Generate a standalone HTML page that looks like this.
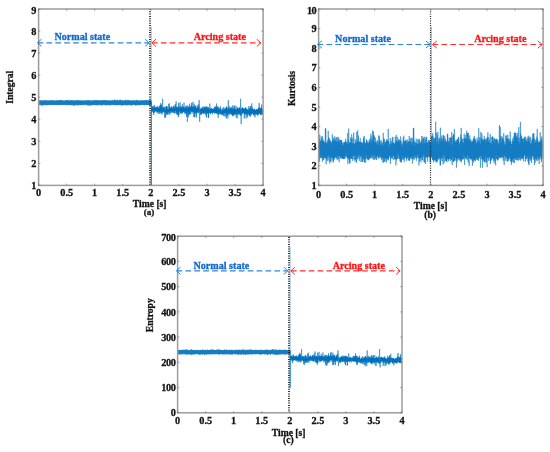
<!DOCTYPE html>
<html><head><meta charset="utf-8"><title>Figure</title>
<style>
html,body{margin:0;padding:0;background:#fff;}
svg{display:block;font-family:"Liberation Serif",serif;font-weight:bold;}
.tk{font-size:10.3px;fill:#111;stroke:#111;stroke-width:0.28px;}
.lb{font-size:9.6px;fill:#111;stroke:#111;stroke-width:0.28px;}
.cp{font-size:9px;fill:#111;stroke:#111;stroke-width:0.28px;}
.an{font-size:10.1px;stroke-width:0.3px;}
</style></head><body>
<svg width="550" height="452" viewBox="0 0 550 452">
<rect width="550" height="452" fill="#fff"/>
<polyline points="38.9,100.9 38.9,104.7 39.1,104.6 39.1,100.3 39.4,100.4 39.4,104.6 39.6,104.9 39.6,100.7 39.9,100.8 39.9,105.2 40.1,104.6 40.1,100.7 40.4,100.7 40.4,104.5 40.6,104.7 40.6,100.9 40.9,100.6 40.9,105.3 41.1,104.5 41.1,100.1 41.4,100.2 41.4,104.9 41.6,105.5 41.6,100.9 41.9,100.6 41.9,104.8 42.1,104.5 42.1,100.9 42.4,100.8 42.4,104.5 42.6,105.6 42.6,100.7 42.9,100.6 42.9,104.8 43.1,105.2 43.1,100.9 43.4,100.9 43.4,104.8 43.6,104.8 43.6,100.6 43.9,100.6 43.9,104.8 44.1,105.1 44.1,100.3 44.4,100.8 44.4,104.9 44.6,105.1 44.6,100.6 44.9,100.1 44.9,104.6 45.1,104.5 45.1,100.6 45.4,100.7 45.4,104.8 45.6,105.1 45.6,100.4 45.9,100.3 45.9,104.5 46.1,104.9 46.1,100.9 46.4,100.5 46.4,105 46.6,104.9 46.6,100.8 46.9,100.6 46.9,104.6 47.1,105.4 47.1,100.8 47.4,100.6 47.4,104.5 47.6,104.9 47.6,100.8 47.9,100.7 47.9,104.6 48.1,105 48.1,100.5 48.4,100.9 48.4,104.9 48.6,104.8 48.6,100.6 48.9,100.8 48.9,104.6 49.1,104.7 49.1,100.8 49.4,100.5 49.4,104.6 49.6,105 49.6,100.4 49.9,100.7 49.9,104.5 50.1,104.6 50.1,100.6 50.4,100.2 50.4,105 50.6,105 50.6,100.9 50.9,100.7 50.9,104.8 51.1,104.6 51.1,100.6 51.4,100.3 51.4,104.6 51.6,104.9 51.6,100.6 51.9,100.7 51.9,104.9 52.1,104.8 52.1,100.8 52.4,100.5 52.4,104.6 52.6,104.6 52.6,100.4 52.9,100.7 52.9,104.8 53.1,104.8 53.1,100.7 53.4,100.2 53.4,104.8 53.6,104.5 53.6,100.8 53.9,100.8 53.9,104.9 54.1,104.6 54.1,100.6 54.4,100.8 54.4,104.5 54.6,104.7 54.6,100.9 54.9,100.8 54.9,104.5 55.1,104.8 55.1,100.6 55.4,100.7 55.4,105 55.6,105.1 55.6,100.9 55.9,100.7 55.9,104.8 56.1,104.5 56.1,100.7 56.4,100.5 56.4,105.1 56.6,104.7 56.6,100.7 56.9,100.9 56.9,105 57.1,104.9 57.1,100.7 57.4,100.4 57.4,104.8 57.6,105.2 57.6,100.1 57.9,100.2 57.9,104.8 58.1,104.7 58.1,100.6 58.4,100.7 58.4,104.9 58.6,105 58.6,100.9 58.9,100.5 58.9,104.5 59.1,104.5 59.1,100.4 59.4,100.4 59.4,104.7 59.6,104.9 59.6,100.7 59.9,100.4 59.9,104.9 60.1,104.8 60.1,100.2 60.4,100.8 60.4,104.7 60.6,104.6 60.6,100.4 60.9,100.8 60.9,104.7 61.1,104.9 61.1,100.3 61.4,100 61.4,105.1 61.6,104.7 61.6,100.1 61.9,100.7 61.9,104.5 62.1,105.1 62.1,100.6 62.4,100.2 62.4,104.7 62.6,104.9 62.6,100.8 62.9,100.6 62.9,104.9 63.1,104.9 63.1,100.8 63.4,100.9 63.4,104.5 63.6,104.5 63.6,100.9 63.9,100.6 63.9,104.9 64.2,104.6 64.2,100.8 64.4,100.8 64.4,104.6 64.7,105 64.7,100.9 64.9,100.9 64.9,104.6 65.2,104.7 65.2,100.4 65.4,100.7 65.4,104.5 65.7,104.7 65.7,100.4 65.9,100.9 65.9,104.7 66.2,104.5 66.2,100.3 66.4,100.3 66.4,104.7 66.7,105.2 66.7,100.7 66.9,100 66.9,104.8 67.2,104.5 67.2,100.9 67.4,100.7 67.4,104.9 67.7,105.1 67.7,100.3 67.9,100.4 67.9,105 68.2,104.9 68.2,99.8 68.4,100.6 68.4,104.5 68.7,104.9 68.7,100.7 68.9,100.7 68.9,104.6 69.2,105.2 69.2,100.6 69.4,100.8 69.4,104.5 69.7,105 69.7,100.8 69.9,100.9 69.9,104.6 70.2,105 70.2,100.5 70.4,100.9 70.4,104.6 70.7,104.9 70.7,100.5 70.9,100.8 70.9,104.8 71.2,105 71.2,100.8 71.4,100 71.4,105 71.7,104.7 71.7,100.3 71.9,100.6 71.9,105.4 72.2,104.8 72.2,100.7 72.4,100.7 72.4,105.1 72.7,104.8 72.7,100.7 72.9,100.4 72.9,104.9 73.2,105.3 73.2,100.6 73.4,100.5 73.4,104.6 73.7,105.2 73.7,100.9 73.9,100.6 73.9,104.7 74.2,105.3 74.2,100.6 74.4,100.7 74.4,105.6 74.7,104.6 74.7,100.4 74.9,100.7 74.9,105.5 75.2,104.7 75.2,100.9 75.4,100.8 75.4,104.8 75.7,104.5 75.7,100.8 75.9,100.1 75.9,104.6 76.2,104.7 76.2,100.9 76.4,100.8 76.4,105.2 76.7,105 76.7,100.5 76.9,100.7 76.9,104.7 77.2,104.6 77.2,100.7 77.4,100.6 77.4,105.1 77.7,105.2 77.7,100 77.9,100.6 77.9,105.3 78.2,104.9 78.2,100.1 78.4,100 78.4,105.2 78.7,104.5 78.7,100.6 78.9,100.8 78.9,104.5 79.2,105.1 79.2,100.7 79.4,100.7 79.4,104.6 79.7,104.6 79.7,100.7 79.9,100.9 79.9,105.1 80.2,105 80.2,100.9 80.4,100.3 80.4,104.9 80.7,105.1 80.7,100.9 80.9,100.6 80.9,105.2 81.2,105 81.2,100.9 81.4,100.7 81.4,104.9 81.7,104.5 81.7,100.7 81.9,100.6 81.9,104.9 82.2,104.5 82.2,100.8 82.4,100.8 82.4,105 82.7,105.2 82.7,100.9 82.9,100.7 82.9,104.9 83.2,104.5 83.2,100.9 83.4,100.7 83.4,104.5 83.7,105 83.7,100.8 83.9,100.9 83.9,105.1 84.2,104.5 84.2,100.7 84.4,100.4 84.4,104.5 84.7,104.7 84.7,100.6 84.9,100.6 84.9,104.7 85.2,104.7 85.2,100.6 85.4,100.9 85.4,104.6 85.7,104.6 85.7,100.7 85.9,100.8 85.9,104.7 86.2,104.5 86.2,100.7 86.4,100.5 86.4,104.7 86.7,104.5 86.7,100.6 86.9,100.4 86.9,104.6 87.2,105.5 87.2,100.9 87.4,100.4 87.4,104.7 87.7,104.6 87.7,100.9 87.9,100.2 87.9,105.1 88.2,105.4 88.2,100.1 88.4,100.3 88.4,105.2 88.7,105 88.7,100.7 88.9,100.7 88.9,104.5 89.2,105.5 89.2,100.3 89.4,100.8 89.4,104.6 89.7,105 89.7,100.5 89.9,100.7 89.9,104.5 90.2,105.6 90.2,100.8 90.4,100.5 90.4,105.5 90.7,104.9 90.7,100.9 90.9,100.8 90.9,104.5 91.2,105 91.2,100.9 91.4,100.7 91.4,105 91.7,105.1 91.7,100.5 91.9,100.6 91.9,105 92.2,105.1 92.2,100.7 92.4,100.5 92.4,104.8 92.7,104.9 92.7,100.8 92.9,100.2 92.9,104.8 93.2,104.9 93.2,100.5 93.4,100.7 93.4,104.8 93.7,105 93.7,100.6 93.9,100.7 93.9,104.8 94.2,104.5 94.2,100.9 94.4,100.9 94.4,104.6 94.7,104.9 94.7,99.9 94.9,100.9 94.9,104.6 95.2,105.3 95.2,100.5 95.4,100.6 95.4,104.6 95.7,104.6 95.7,100.3 95.9,100.3 95.9,104.8 96.2,105 96.2,100.5 96.4,100.6 96.4,105.2 96.7,104.6 96.7,100.2 96.9,100.9 96.9,105 97.2,105.1 97.2,100.5 97.4,100.8 97.4,105.2 97.7,104.5 97.7,100.1 97.9,100.9 97.9,104.9 98.2,104.5 98.2,100.7 98.4,100.8 98.4,104.8 98.7,104.6 98.7,100.8 98.9,100.7 98.9,105.2 99.2,104.6 99.2,100.6 99.4,100.3 99.4,104.5 99.7,104.6 99.7,100.9 99.9,100.9 99.9,104.5 100.2,104.8 100.2,100.8 100.4,100.5 100.4,104.8 100.7,104.6 100.7,100.2 100.9,100.8 100.9,104.5 101.2,105.5 101.2,100.6 101.4,100.5 101.4,104.6 101.7,104.5 101.7,100.6 101.9,100.5 101.9,105.4 102.2,104.5 102.2,100.8 102.4,100.6 102.4,104.9 102.7,104.8 102.7,100 102.9,100.6 102.9,104.9 103.2,104.7 103.2,100.7 103.4,100.7 103.4,104.6 103.7,104.5 103.7,100.4 103.9,100.8 103.9,104.8 104.2,104.7 104.2,100.7 104.4,100.3 104.4,104.7 104.7,105 104.7,100.4 104.9,100.7 104.9,104.8 105.2,104.7 105.2,100.9 105.4,100.4 105.4,105.4 105.7,104.7 105.7,100.4 105.9,100.8 105.9,105.1 106.2,105 106.2,100.4 106.4,100.7 106.4,104.5 106.7,105.1 106.7,100.8 106.9,100.1 106.9,104.7 107.2,104.8 107.2,100.6 107.4,100.8 107.4,104.9 107.7,104.5 107.7,100.7 107.9,100.9 107.9,105 108.2,105.1 108.2,100.9 108.4,100.7 108.4,104.9 108.7,105.1 108.7,100.9 108.9,100.4 108.9,104.5 109.2,104.7 109.2,100.9 109.4,100.8 109.4,104.6 109.7,105.3 109.7,100.7 109.9,100.5 109.9,104.9 110.2,105.3 110.2,100.6 110.4,100.3 110.4,104.5 110.7,104.5 110.7,100.8 110.9,100.8 110.9,104.5 111.2,104.7 111.2,100.8 111.4,100.7 111.4,105.1 111.7,104.8 111.7,100.8 111.9,100.7 111.9,104.9 112.2,104.6 112.2,100.8 112.4,100.2 112.4,104.7 112.7,104.8 112.7,100.4 112.9,100.7 112.9,104.8 113.2,104.6 113.2,100.2 113.4,100.8 113.4,104.8 113.7,104.9 113.7,100.8 113.9,100.9 113.9,104.7 114.2,104.9 114.2,100.4 114.4,100.8 114.4,104.5 114.7,104.6 114.7,99.3 114.9,100.4 114.9,104.6 115.2,104.6 115.2,100.8 115.4,100.8 115.4,104.5 115.7,105.3 115.7,100.9 115.9,100.1 115.9,105.2 116.2,104.8 116.2,100.4 116.4,100.7 116.4,104.7 116.7,105.1 116.7,100.9 116.9,100.2 116.9,104.6 117.2,104.5 117.2,100.6 117.4,100.9 117.4,104.7 117.7,105.2 117.7,99.6 117.9,100.6 117.9,104.5 118.2,105 118.2,100.5 118.4,100.9 118.4,104.9 118.7,105.1 118.7,100.9 118.9,100.6 118.9,105 119.2,104.8 119.2,100.9 119.4,100.6 119.4,104.7 119.7,104.5 119.7,100.9 119.9,99.8 119.9,104.8 120.2,104.8 120.2,100.4 120.4,99.7 120.4,104.9 120.7,105.3 120.7,100.9 120.9,100.6 120.9,105 121.2,104.9 121.2,100.7 121.4,100.9 121.4,105.1 121.7,104.6 121.7,100.1 121.9,100.5 121.9,104.7 122.2,105.3 122.2,100.5 122.4,100.9 122.4,105.6 122.7,104.8 122.7,100.9 122.9,100.8 122.9,105 123.2,105 123.2,100.4 123.4,100.7 123.4,105 123.7,105 123.7,100.8 123.9,100.4 123.9,105.1 124.2,104.9 124.2,100.9 124.4,100.9 124.4,105 124.7,104.6 124.7,100.6 124.9,100.7 124.9,104.8 125.2,104.5 125.2,100.7 125.4,99.7 125.4,105 125.7,105.1 125.7,100.5 125.9,100.7 125.9,104.6 126.2,105.1 126.2,100.9 126.4,100.5 126.4,105.4 126.7,105.3 126.7,100.8 126.9,100.8 126.9,104.9 127.2,104.5 127.2,99.8 127.4,100.8 127.4,104.7 127.7,105.4 127.7,100.7 127.9,100.2 127.9,104.6 128.2,105.1 128.2,100.1 128.4,100.3 128.4,105 128.7,104.8 128.7,100.4 128.9,100 128.9,104.6 129.2,104.7 129.2,100.7 129.4,100.9 129.4,104.8 129.7,104.6 129.7,100.5 129.9,100.9 129.9,104.9 130.2,104.8 130.2,100.9 130.4,100.3 130.4,104.5 130.7,105 130.7,100.7 130.9,100.7 130.9,104.9 131.2,105.7 131.2,100.8 131.4,100.7 131.4,104.7 131.7,105.4 131.7,100.9 131.9,100.8 131.9,104.7 132.2,104.5 132.2,100.9 132.4,100.6 132.4,104.8 132.7,104.7 132.7,100.7 132.9,100.7 132.9,104.7 133.2,104.7 133.2,100.7 133.4,100.2 133.4,104.5 133.7,104.5 133.7,100.9 133.9,100.5 133.9,104.7 134.2,105 134.2,100.8 134.4,100.7 134.4,104.5 134.7,104.9 134.7,100.6 134.9,100.9 134.9,104.7 135.2,104.7 135.2,100.8 135.4,100.7 135.4,104.7 135.7,105.6 135.7,100.4 135.9,100.7 135.9,104.6 136.2,104.9 136.2,100.9 136.4,100.2 136.4,105.3 136.7,104.5 136.7,99.9 136.9,100.8 136.9,104.6 137.2,104.9 137.2,100.7 137.4,100.8 137.4,105.2 137.7,104.6 137.7,100.7 137.9,100.8 137.9,104.6 138.2,104.5 138.2,100.2 138.4,100.8 138.4,105 138.7,105 138.7,100.8 138.9,100.8 138.9,104.6 139.2,105.2 139.2,100.6 139.4,100.7 139.4,104.5 139.7,105.2 139.7,100.9 139.9,100.6 139.9,104.9 140.2,104.5 140.2,100.9 140.4,100.8 140.4,104.9 140.7,104.9 140.7,100.6 140.9,100.9 140.9,105.1 141.2,104.6 141.2,100.7 141.4,100.3 141.4,104.7 141.7,105.1 141.7,100.5 141.9,100.4 141.9,104.9 142.2,104.6 142.2,100.7 142.4,100.9 142.4,104.5 142.7,104.5 142.7,100.8 142.9,100.8 142.9,105 143.2,104.7 143.2,100.5 143.4,100.9 143.4,104.7 143.7,104.5 143.7,100.3 143.9,100.9 143.9,104.6 144.2,104.6 144.2,100.3 144.4,100.9 144.4,105.4 144.7,104.7 144.7,100.4 144.9,100.4 144.9,104.6 145.2,104.6 145.2,100.9 145.4,100.9 145.4,104.7 145.7,104.7 145.7,100.2 145.9,100.6 145.9,104.6 146.2,104.9 146.2,100 146.4,100.3 146.4,105.1 146.7,104.5 146.7,100.1 146.9,100.6 146.9,105 147.2,104.6 147.2,100.7 147.4,100.9 147.4,105 147.7,104.9 147.7,100.3 147.9,100.4 147.9,104.5 148.2,105.1 148.2,100.7 148.4,100.6 148.4,104.7 148.7,104.6 148.7,100.8 148.9,100.3 148.9,105.1 149.2,104.9 149.2,100.8 149.4,100.5 149.4,105.4 149.7,104.6 149.7,100.2 149.9,100.8 149.9,104.6 150.2,105 150.2,100.9 150.4,100.5 150.4,105.4 150.7,105 150.7,100.3 150.9,100.7 150.9,105.6 151.2,105.2 151.2,100.6" fill="none" stroke="#0072BD" stroke-width="0.5" stroke-linejoin="round"/>
<polyline points="151.7,107.7 151.7,110.5 151.8,108.7 151.8,112.6 151.9,108.9 151.9,106.9 152,108.7 152,111 152.1,110.5 152.1,109.4 152.2,107.8 152.2,109.2 152.3,106.9 152.3,108.6 152.4,106.8 152.4,110.1 152.5,109.6 152.5,108.4 152.6,109.3 152.6,110.6 152.7,111.2 152.7,109.9 152.8,110.4 152.8,109.4 152.9,110.3 152.9,106.6 153,111.9 153,108.3 153.1,108.2 153.1,109.5 153.2,110 153.2,105.6 153.3,109.5 153.3,109 153.4,110.4 153.4,112.9 153.5,112.8 153.5,111.6 153.6,108.5 153.6,112.1 153.7,115 153.7,109.3 153.8,110 153.8,110.1 153.9,111.3 153.9,112.7 154,111.7 154,111.2 154.1,110 154.1,112.7 154.2,110.1 154.2,109.4 154.3,109.5 154.3,108.5 154.4,111.5 154.4,110.2 154.5,108.2 154.5,108.7 154.6,105 154.6,111.1 154.7,109.9 154.7,108.7 154.8,110.9 154.8,110 154.9,110.9 154.9,110.2 155,106.7 155,107.8 155.1,110 155.1,110.9 155.2,109.8 155.2,111.3 155.3,109.7 155.3,110 155.4,109.7 155.4,109.7 155.5,110.1 155.5,108.4 155.6,107.8 155.6,111 155.7,108.8 155.7,108.8 155.8,111.1 155.8,108.9 155.9,107.1 155.9,109.3 156,110.4 156,111.1 156.1,109.3 156.1,109.5 156.2,107.2 156.2,110 156.3,112.4 156.4,109.3 156.4,111.5 156.5,108.6 156.5,110.1 156.6,107.7 156.6,109.4 156.7,107.3 156.7,108.3 156.8,110.1 156.8,108 156.9,112 156.9,109 157,109.7 157,109.4 157.1,107 157.1,108 157.2,108.6 157.2,110.7 157.3,110.8 157.3,109.8 157.4,108.7 157.4,112.4 157.5,113.1 157.5,111.3 157.6,107.3 157.6,106.8 157.7,107.2 157.7,108.3 157.8,109.2 157.8,109.3 157.9,110.7 157.9,110.7 158,106 158,111.1 158.1,108 158.1,110.8 158.2,111.8 158.2,108.3 158.3,109.5 158.3,111 158.4,110.4 158.4,109.9 158.5,108.7 158.5,108.3 158.6,110.7 158.6,109.7 158.7,111.5 158.7,109.7 158.8,109.3 158.8,111 158.9,109.2 158.9,107.9 159,111.1 159,114.1 159.1,111.5 159.1,109.6 159.2,110.2 159.2,113.4 159.3,111.1 159.3,112 159.4,108.2 159.4,108.9 159.5,107.9 159.5,109.6 159.6,110.2 159.6,111 159.7,106.4 159.7,111.2 159.8,109.2 159.8,110.9 159.9,110.9 159.9,110.7 160,105.4 160,111 160.1,112 160.1,111.7 160.2,109.8 160.2,110.1 160.3,110.4 160.3,110.8 160.4,110.3 160.4,104.7 160.5,109.6 160.5,106.4 160.6,111 160.6,108.7 160.7,111.4 160.7,113.5 160.8,111.9 160.8,103 160.9,110.7 161,107.4 161,112.8 161.1,108.7 161.1,109.1 161.2,107.1 161.2,111.8 161.3,106 161.3,110.1 161.4,109.9 161.4,110 161.5,107.7 161.5,104.7 161.6,107.8 161.6,108.1 161.7,111 161.7,111.6 161.8,109.7 161.8,110.3 161.9,114.5 161.9,109 162,109 162,111 162.1,111.4 162.1,113.1 162.2,110.7 162.2,108.8 162.3,111 162.3,112.4 162.4,112.3 162.4,107.4 162.5,107 162.5,104.8 162.6,100.6 162.6,98.7 162.7,100.5 162.7,102.6 162.8,105.9 162.8,108.3 162.9,110.3 162.9,108.4 163,109.2 163,110.1 163.1,109.9 163.1,109 163.2,108.9 163.2,107 163.3,110.4 163.3,110.9 163.4,107.3 163.4,110.8 163.5,109.8 163.5,108.5 163.6,109.2 163.6,109.5 163.7,106.9 163.7,110.4 163.8,108.7 163.8,112.1 163.9,111.2 163.9,112.6 164,109.1 164,111.8 164.1,110.6 164.1,108.2 164.2,110.5 164.2,110.8 164.3,110.4 164.3,110.5 164.4,109.6 164.4,109.8 164.5,110.6 164.5,112.2 164.6,107 164.6,110.9 164.7,111.5 164.7,114.3 164.8,115.5 164.8,114.9 164.9,118.1 164.9,117.1 165,116.3 165,114.7 165.1,112.7 165.1,111.2 165.2,110.3 165.2,110.9 165.3,117.4 165.3,111.6 165.4,112.1 165.4,109.9 165.5,111.2 165.6,111.7 165.6,110.8 165.7,109.3 165.7,112.6 165.8,110.6 165.8,111.7 165.9,106.8 165.9,110.1 166,110 166,111.9 166.1,111 166.1,111.1 166.2,108.2 166.2,106.9 166.3,109.8 166.3,106 166.4,107 166.4,115.2 166.5,110.7 166.5,109.8 166.6,106 166.6,110.1 166.7,112.3 166.7,110.6 166.8,114 166.8,111.7 166.9,110.6 166.9,109.7 167,111.7 167,112.6 167.1,111.4 167.1,109.2 167.2,109.9 167.2,109.2 167.3,109.2 167.3,112.4 167.4,106.7 167.4,109.9 167.5,112.2 167.5,110.6 167.6,112.6 167.6,110.4 167.7,114.5 167.7,110.5 167.8,108.9 167.8,111.8 167.9,114.4 167.9,110.5 168,110.3 168,112 168.1,109.2 168.1,110.4 168.2,110.8 168.2,111.6 168.3,110.5 168.3,111.7 168.4,108.9 168.4,110.2 168.5,109 168.5,111 168.6,111.3 168.6,111.1 168.7,109.7 168.7,104.2 168.8,109.7 168.8,109.9 168.9,114.1 168.9,111.1 169,111.8 169,111.7 169.1,112.3 169.1,108.7 169.2,107.9 169.2,105.3 169.3,103.9 169.3,103.2 169.4,104.4 169.4,106.7 169.5,107.5 169.5,108.6 169.6,110.2 169.6,107.4 169.7,112.1 169.7,110 169.8,110 169.8,114.8 169.9,109.7 169.9,111 170,109.4 170,108.9 170.1,109.4 170.1,109.1 170.2,110 170.3,109.4 170.3,107.3 170.4,108.4 170.4,109.7 170.5,110.1 170.5,109.4 170.6,111.2 170.6,108.8 170.7,112.8 170.7,109.5 170.8,109.3 170.8,108.7 170.9,109 170.9,109.6 171,108.6 171,110 171.1,111.1 171.1,107.2 171.2,109.7 171.2,109.9 171.3,113.1 171.3,108.8 171.4,106.5 171.4,111.5 171.5,110.2 171.5,110.1 171.6,106.5 171.6,110.1 171.7,109.4 171.7,110.8 171.8,108.7 171.8,110.1 171.9,111.6 171.9,110.2 172,110.2 172,109.2 172.1,109.1 172.1,109.5 172.2,108.6 172.2,108.1 172.3,110 172.3,109.7 172.4,109.7 172.4,109 172.5,108.7 172.5,110.6 172.6,109.4 172.6,107.6 172.7,110.4 172.7,112.4 172.8,109 172.8,109.7 172.9,110.1 172.9,108.4 173,110.3 173,110.4 173.1,108 173.1,112.7 173.2,108.3 173.2,111 173.3,109.1 173.3,109.1 173.4,105.8 173.4,109.6 173.5,108.6 173.5,111 173.6,107.3 173.6,106.4 173.7,111.1 173.7,107.7 173.8,110.3 173.8,109.7 173.9,112.5 173.9,107.7 174,110.4 174,110.8 174.1,109.4 174.1,112.9 174.2,110 174.2,110.2 174.3,110.6 174.3,109.6 174.4,109.1 174.4,111.8 174.5,111.2 174.5,113.6 174.6,109.1 174.6,109.9 174.7,110.2 174.7,106.9 174.8,109 174.9,111.1 174.9,109 175,109.3 175,109.9 175.1,105.6 175.1,106.9 175.2,109.3 175.2,110.6 175.3,104 175.3,110.7 175.4,110.1 175.4,109.2 175.5,109.5 175.5,110.2 175.6,106.8 175.6,109.4 175.7,110.5 175.7,109.9 175.8,113.4 175.8,111.8 175.9,112.1 175.9,109.2 176,107 176,104.8 176.1,103.3 176.1,101.4 176.2,103.2 176.2,105 176.3,106.5 176.3,109 176.4,110.7 176.4,108.6 176.5,107.5 176.5,109.3 176.6,111.6 176.6,108.2 176.7,113.7 176.7,111.6 176.8,109 176.8,108.2 176.9,109 176.9,107 177,109.8 177,111.4 177.1,110.4 177.1,109.7 177.2,115 177.2,110.6 177.3,107.9 177.3,107.8 177.4,108.5 177.4,112.1 177.5,110.2 177.5,114.9 177.6,107.2 177.6,109.4 177.7,106.7 177.7,112.1 177.8,114.7 177.8,108 177.9,110.4 177.9,111.5 178,109.9 178,110.4 178.1,106.9 178.1,109.6 178.2,109.8 178.2,109.8 178.3,111.8 178.3,109.5 178.4,117.2 178.4,109.9 178.5,113.4 178.5,110.8 178.6,108.5 178.6,103 178.7,111.2 178.7,110.5 178.8,108.1 178.8,110.3 178.9,112.5 178.9,115.4 179,111 179,111.4 179.1,112.3 179.1,109.6 179.2,109.5 179.2,110.9 179.3,109.9 179.3,110.5 179.4,108.8 179.5,110.2 179.5,110.1 179.6,109 179.6,110.2 179.7,110.9 179.7,106.6 179.8,108.9 179.8,108.5 179.9,107.1 179.9,105.6 180,104.4 180,102.2 180.1,103.6 180.1,106.2 180.2,107.9 180.2,108.8 180.3,108.3 180.3,113.7 180.4,108.5 180.4,108.8 180.5,110.7 180.5,111.4 180.6,106.3 180.6,110.3 180.7,111.3 180.7,107.6 180.8,111.7 180.8,109.2 180.9,110.6 180.9,108.4 181,108.4 181,109.8 181.1,112.2 181.1,109.4 181.2,113.8 181.2,110.4 181.3,108.6 181.3,109.9 181.4,110.1 181.4,111 181.5,111.4 181.5,106.8 181.6,109.6 181.6,110.6 181.7,109.7 181.7,112.3 181.8,113.2 181.8,109.6 181.9,107.2 181.9,111.3 182,110.2 182,108.4 182.1,106.9 182.1,112.3 182.2,108 182.2,108.7 182.3,104.3 182.3,111.7 182.4,112.8 182.4,111.8 182.5,109.8 182.5,107.2 182.6,107.8 182.6,111.6 182.7,113.1 182.7,112.4 182.8,111.4 182.8,107.9 182.9,108.4 182.9,110.4 183,108 183,111.3 183.1,106.7 183.1,106.8 183.2,109.9 183.2,110.4 183.3,110.9 183.3,110.3 183.4,110.6 183.4,109.7 183.5,112.1 183.5,107.1 183.6,109.6 183.6,109.6 183.7,108.8 183.7,108.4 183.8,111.3 183.8,109.6 183.9,107.8 183.9,109.9 184,102.6 184,107.3 184.1,108.2 184.2,110.4 184.2,109 184.3,109.5 184.3,109.4 184.4,112.4 184.4,108.8 184.5,107.9 184.5,108 184.6,109.3 184.6,109.2 184.7,110.5 184.7,111 184.8,110 184.8,108 184.9,110.4 184.9,109.8 185,109.4 185,107.3 185.1,114.4 185.1,110.6 185.2,112.6 185.2,109.5 185.3,113 185.3,112.7 185.4,112.6 185.4,108 185.5,110.1 185.5,109.2 185.6,110.4 185.6,110.4 185.7,111.2 185.7,105.8 185.8,107.9 185.8,109.2 185.9,110 185.9,110.6 186,107.8 186,109 186.1,111 186.1,110.2 186.2,110.2 186.2,109.3 186.3,110.9 186.3,109.8 186.4,112.5 186.4,112.8 186.5,112.3 186.5,105.8 186.6,116.9 186.6,111.9 186.7,114.2 186.7,112 186.8,110.4 186.8,108.2 186.9,110.9 186.9,109.5 187,109.7 187,108.9 187.1,108.1 187.1,112 187.2,114.5 187.2,117.6 187.3,119.4 187.3,121.8 187.4,119.1 187.4,117.6 187.5,114.8 187.5,111.4 187.6,108.4 187.6,107.4 187.7,105.5 187.7,111.6 187.8,107.7 187.8,110 187.9,112.4 187.9,111.4 188,110.3 188,109 188.1,111.7 188.1,110.8 188.2,107.4 188.2,114 188.3,117.3 188.3,109.2 188.4,111.9 188.4,107.8 188.5,110.4 188.5,110.1 188.6,107.5 188.6,109.1 188.7,113.7 188.8,110.4 188.8,115.2 188.9,111 188.9,110.8 189,111.2 189,108.8 189.1,106.1 189.1,107 189.2,110 189.2,107.7 189.3,110.8 189.3,113.2 189.4,112.6 189.4,112.3 189.5,112.7 189.5,107 189.6,110.9 189.6,103.7 189.7,114.7 189.7,111.2 189.8,111.8 189.8,108.9 189.9,108.9 189.9,112.5 190,108.8 190,110.8 190.1,107 190.1,107.2 190.2,109.9 190.2,110.7 190.3,109.1 190.3,109.6 190.4,111.7 190.4,114.2 190.5,106.7 190.5,110.7 190.6,109.1 190.6,109.7 190.7,107.8 190.7,110.6 190.8,112.2 190.8,108.3 190.9,107.3 190.9,109.4 191,109.6 191,109.5 191.1,111.1 191.1,111.3 191.2,110.1 191.2,108.1 191.3,109.8 191.3,107.8 191.4,111 191.4,105.1 191.5,109.8 191.5,109.9 191.6,102.8 191.6,110.5 191.7,108.8 191.7,109.3 191.8,107.6 191.8,109.2 191.9,110.1 191.9,111.9 192,109.9 192,107 192.1,106.3 192.1,113.7 192.2,111.2 192.2,108.2 192.3,110.8 192.3,111.3 192.4,110 192.4,110.9 192.5,108.7 192.5,111.1 192.6,111.7 192.6,111.9 192.7,107.4 192.7,108.8 192.8,106.9 192.8,105 192.9,103.2 192.9,101.9 193,102.9 193,104.9 193.1,106.7 193.1,109.3 193.2,111.5 193.2,107.6 193.3,111.3 193.4,111.3 193.4,106.8 193.5,106.9 193.5,111.2 193.6,106.7 193.6,110.6 193.7,110 193.7,106.9 193.8,111.7 193.8,109.2 193.9,110 193.9,109.3 194,109.2 194,117.2 194.1,110.1 194.1,103.6 194.2,117.2 194.2,110.9 194.3,111.5 194.3,112.9 194.4,111.7 194.4,110.4 194.5,108.5 194.5,109.3 194.6,107.2 194.6,107.5 194.7,109 194.7,106.5 194.8,113.1 194.8,108.5 194.9,109.9 194.9,110.3 195,116.8 195,110.6 195.1,105.6 195.1,110 195.2,110.5 195.2,110.3 195.3,109.4 195.3,109.5 195.4,109.8 195.4,111.3 195.5,105.7 195.5,111.4 195.6,107.5 195.6,109.8 195.7,108.8 195.7,111.4 195.8,113.8 195.8,112.2 195.9,110.7 195.9,111.2 196,111.9 196,112.5 196.1,109.1 196.1,108.2 196.2,113.4 196.2,112.9 196.3,107.8 196.3,111.8 196.4,108.8 196.4,109.8 196.5,110.7 196.5,111.8 196.6,117.5 196.6,111.6 196.7,112.1 196.7,112.2 196.8,109.3 196.8,111.2 196.9,108.3 196.9,109.7 197,109.7 197,110.8 197.1,108.9 197.1,110.6 197.2,109.8 197.2,105.1 197.3,110.9 197.3,111.4 197.4,110 197.4,110.2 197.5,107.4 197.5,111.1 197.6,107 197.6,110.5 197.7,110.9 197.7,107.6 197.8,112.9 197.8,110.7 197.9,109.6 197.9,109.6 198,108.5 198.1,111.8 198.1,109.4 198.2,112.8 198.2,109.8 198.3,110.2 198.3,112 198.4,113.3 198.4,112.4 198.5,106 198.5,110.1 198.6,111.2 198.6,111.4 198.7,109.9 198.7,108 198.8,104.3 198.8,111 198.9,110.2 198.9,107.6 199,106.5 199,104.4 199.1,102.3 199.1,100.1 199.2,103.2 199.2,104.2 199.3,106.9 199.3,108.4 199.4,110.7 199.4,112.4 199.5,113.7 199.5,115.1 199.6,116.9 199.6,119.9 199.7,121.8 199.7,119.5 199.8,116.6 199.8,114.6 199.9,114 199.9,111.9 200,107.5 200,110 200.1,112.1 200.1,110.9 200.2,111.7 200.2,109.8 200.3,109.9 200.3,114.8 200.4,109.5 200.4,110.1 200.5,111.3 200.5,111.4 200.6,111.4 200.6,109.9 200.7,111.3 200.7,110.4 200.8,111.7 200.8,112.8 200.9,110.9 200.9,109.2 201,114.1 201,109 201.1,110.3 201.1,112.8 201.2,110.1 201.2,112 201.3,110.8 201.3,108.4 201.4,110.6 201.4,110 201.5,114.7 201.5,108.5 201.6,113.7 201.6,108.7 201.7,112.5 201.7,111.8 201.8,110.4 201.8,109.8 201.9,109.9 201.9,111.9 202,109.6 202,110.6 202.1,110.3 202.1,111.3 202.2,111.1 202.2,110.5 202.3,112.8 202.3,111.1 202.4,106.8 202.4,108.4 202.5,108.8 202.5,110.2 202.6,109.1 202.7,113.5 202.7,109.5 202.8,112 202.8,109.7 202.9,109.4 202.9,110.1 203,111 203,107.1 203.1,112.7 203.1,107.7 203.2,110.7 203.2,109.7 203.3,108.7 203.3,111.9 203.4,112 203.4,111.7 203.5,111.9 203.5,112.6 203.6,110.9 203.6,111.7 203.7,112.2 203.7,109.4 203.8,111.3 203.8,113.9 203.9,109 203.9,108.6 204,108.2 204,113.2 204.1,110.8 204.1,106.2 204.2,109.1 204.2,113.9 204.3,110.3 204.3,110.3 204.4,110.4 204.4,109.4 204.5,108.1 204.5,110.3 204.6,110 204.6,108.5 204.7,111.1 204.7,109.5 204.8,108.6 204.8,109.8 204.9,109.3 204.9,106.8 205,112.3 205,111.5 205.1,111.7 205.1,109.1 205.2,109.1 205.2,109.3 205.3,109.9 205.3,110.8 205.4,112.2 205.4,112.6 205.5,112.1 205.5,106.9 205.6,110.1 205.6,112.2 205.7,110.3 205.7,110.2 205.8,112.8 205.8,109.1 205.9,114.1 205.9,112.7 206,112.8 206,116.1 206.1,109.6 206.1,110.7 206.2,112.3 206.2,110.8 206.3,108.7 206.3,106.3 206.4,109.7 206.4,108.9 206.5,111 206.5,109.8 206.6,110.3 206.6,117.7 206.7,110.1 206.7,107.2 206.8,111.1 206.8,112 206.9,110.2 206.9,113.7 207,107.3 207,110.6 207.1,107.8 207.1,111.1 207.2,113.7 207.3,110.4 207.3,111 207.4,111.3 207.4,110.4 207.5,110.7 207.5,113 207.6,111.6 207.6,110.7 207.7,110.8 207.7,111.2 207.8,106.8 207.8,109.1 207.9,113 207.9,112.5 208,109.8 208,111.5 208.1,109.6 208.1,109.1 208.2,107.3 208.2,110.7 208.3,111.8 208.3,109.3 208.4,112.4 208.4,117.7 208.5,108.4 208.5,110.7 208.6,117.7 208.6,108 208.7,112.2 208.7,109.8 208.8,109.2 208.8,110.1 208.9,112.5 208.9,112.7 209,110.1 209,110.9 209.1,111.7 209.1,110.6 209.2,112.6 209.2,109.1 209.3,110.8 209.3,110 209.4,111.4 209.4,111.1 209.5,110.6 209.5,112.9 209.6,108.7 209.6,107.6 209.7,106 209.7,103.6 209.8,103.7 209.8,105.2 209.9,106.8 209.9,108.7 210,109.3 210,108.8 210.1,109.2 210.1,111 210.2,113.1 210.2,113.5 210.3,111.8 210.3,112.9 210.4,111.2 210.4,114.1 210.5,110.4 210.5,112.8 210.6,112.9 210.6,112.7 210.7,109.2 210.7,111.1 210.8,107.6 210.8,109.9 210.9,112.7 210.9,110.8 211,110.5 211,112.8 211.1,112 211.1,110.3 211.2,110.5 211.2,110.3 211.3,111.7 211.3,111 211.4,108.8 211.4,112.4 211.5,109.9 211.5,112.1 211.6,111.3 211.6,112.1 211.7,112.2 211.7,108.2 211.8,109.9 211.8,109.2 211.9,110.5 212,108.9 212,112.2 212.1,111.2 212.1,110.1 212.2,112.6 212.2,109.1 212.3,109.5 212.3,114.5 212.4,113.8 212.4,110.6 212.5,111.6 212.5,109.9 212.6,111.2 212.6,109.4 212.7,111.8 212.7,110.6 212.8,109.5 212.8,111.6 212.9,109.1 212.9,112 213,111.3 213,112.7 213.1,112.2 213.1,110.9 213.2,112.2 213.2,108.5 213.3,110.9 213.3,111.1 213.4,111.8 213.4,110.7 213.5,111.8 213.5,110.8 213.6,109.2 213.6,110.5 213.7,110.5 213.7,110.8 213.8,111.6 213.8,110.2 213.9,112.2 213.9,108.9 214,108.8 214,112.6 214.1,110.7 214.1,109 214.2,113.4 214.2,110.6 214.3,112.4 214.3,111.6 214.4,106.7 214.4,109.8 214.5,109.9 214.5,111.6 214.6,111.6 214.6,110.5 214.7,110.2 214.7,110.2 214.8,108.6 214.8,107 214.9,111.1 214.9,111.3 215,112.8 215,110.9 215.1,109.8 215.1,112.4 215.2,110.4 215.2,111.5 215.3,109.3 215.3,113.5 215.4,109.8 215.4,106.8 215.5,106.6 215.5,112.4 215.6,110.9 215.6,110.6 215.7,108.9 215.7,109.3 215.8,112.2 215.8,108.9 215.9,108.8 215.9,109.8 216,110.8 216,112.4 216.1,112.9 216.1,106.8 216.2,111.4 216.2,108.5 216.3,111.1 216.3,108.5 216.4,112.1 216.4,107.1 216.5,112.8 216.6,110.2 216.6,103.5 216.7,109.4 216.7,113.8 216.8,107.7 216.8,110.4 216.9,109.3 216.9,109.8 217,110.7 217,107.9 217.1,112.3 217.1,112.4 217.2,111.9 217.2,111.2 217.3,110.1 217.3,113.5 217.4,111.2 217.4,107.8 217.5,111.3 217.5,110.7 217.6,110.1 217.6,113.4 217.7,111.4 217.7,106.3 217.8,111.1 217.8,111.1 217.9,111.3 217.9,108.5 218,114.1 218,113.5 218.1,116.3 218.1,117.7 218.2,117.9 218.2,117.3 218.3,113.4 218.3,114.4 218.4,112.3 218.4,111.8 218.5,114.4 218.5,110.7 218.6,111.3 218.6,112 218.7,113.7 218.7,106.8 218.8,111.9 218.8,112.3 218.9,111.3 218.9,109.1 219,109.5 219,111 219.1,112.3 219.1,110.9 219.2,109.1 219.2,111.9 219.3,110.8 219.3,111.6 219.4,110.6 219.4,112.1 219.5,111.9 219.5,109.1 219.6,110.8 219.6,111.2 219.7,111.1 219.7,113.1 219.8,110.3 219.8,111.2 219.9,107.9 219.9,109.6 220,114.4 220,108.7 220.1,110.7 220.1,111.3 220.2,111.4 220.2,114.3 220.3,109.3 220.3,109.4 220.4,111.2 220.4,110.7 220.5,109.2 220.5,112 220.6,110 220.6,106.3 220.7,114 220.7,112.7 220.8,111.7 220.8,112.6 220.9,112.7 220.9,110.3 221,113.1 221,113.3 221.1,111.6 221.2,111.1 221.2,113.2 221.3,112.3 221.3,113.1 221.4,113.5 221.4,111.3 221.5,111.1 221.5,111.1 221.6,113.2 221.6,115.2 221.7,111 221.7,110.6 221.8,109.4 221.8,113.9 221.9,114 221.9,112.2 222,112 222,113.4 222.1,112.7 222.1,110.8 222.2,110.5 222.2,112.6 222.3,110 222.3,113.1 222.4,109.7 222.4,113 222.5,110.6 222.5,114.4 222.6,108.2 222.6,112.2 222.7,113.3 222.7,112.2 222.8,110.3 222.8,113 222.9,111.2 222.9,111.3 223,110.4 223,111.1 223.1,111.5 223.1,112.5 223.2,112.9 223.2,114.2 223.3,115.2 223.3,113.3 223.4,115.6 223.4,113.9 223.5,112.4 223.5,111.7 223.6,112.6 223.6,110.5 223.7,107.1 223.7,109.6 223.8,112.8 223.8,111.5 223.9,111.3 223.9,109.7 224,111.1 224,113.2 224.1,115.8 224.1,110.9 224.2,112.2 224.2,109.9 224.3,112.3 224.3,109.9 224.4,111.4 224.4,110.4 224.5,109.6 224.5,113.2 224.6,112.2 224.6,110.2 224.7,111 224.7,112.9 224.8,111.4 224.8,111 224.9,108.3 224.9,110.4 225,111.7 225,110.1 225.1,116.7 225.1,114.3 225.2,110.4 225.2,113.2 225.3,109.8 225.3,108.3 225.4,110.8 225.4,112.7 225.5,110.1 225.5,108.9 225.6,109.7 225.6,112.1 225.7,110 225.8,111 225.8,112.3 225.9,111.1 225.9,111.8 226,110.6 226,109.7 226.1,109.6 226.1,109.2 226.2,116.6 226.2,110.9 226.3,106.9 226.3,118.5 226.4,112.5 226.4,106.6 226.5,113.5 226.5,107.9 226.6,110.5 226.6,110.6 226.7,112.3 226.7,111 226.8,110.8 226.8,110.8 226.9,112.4 226.9,107.4 227,112.2 227,110.5 227.1,113.4 227.1,113 227.2,111.5 227.2,111.6 227.3,111.2 227.3,111.6 227.4,108.5 227.4,113.9 227.5,109.7 227.5,110.9 227.6,110.4 227.6,112.6 227.7,115.5 227.7,113.2 227.8,109.4 227.8,110.6 227.9,118.5 227.9,110.9 228,109.9 228,112.6 228.1,109 228.1,106.7 228.2,104.7 228.2,102.7 228.3,100.2 228.3,101.4 228.4,104.4 228.4,106.2 228.5,108.9 228.5,110.7 228.6,114.4 228.6,109 228.7,107.3 228.7,110.9 228.8,110.7 228.8,111.5 228.9,112.2 228.9,111.2 229,109.7 229,111.5 229.1,112.8 229.1,112.9 229.2,110.1 229.2,111.4 229.3,111.5 229.3,109.2 229.4,112 229.4,114.7 229.5,112.8 229.5,112 229.6,110 229.6,111 229.7,111.5 229.7,109.3 229.8,106.3 229.8,112 229.9,111 229.9,109.6 230,113.7 230,111.4 230.1,109.5 230.1,107.8 230.2,111.9 230.2,109 230.3,110.5 230.3,110.4 230.4,113.4 230.5,114 230.5,111.5 230.6,112.8 230.6,111.7 230.7,111.6 230.7,110 230.8,111.7 230.8,109.3 230.9,110.3 230.9,107.9 231,110.3 231,109.9 231.1,112.6 231.1,110.5 231.2,109.5 231.2,113.2 231.3,113.6 231.3,108.6 231.4,113.1 231.4,110.5 231.5,111.3 231.5,107.1 231.6,111.8 231.6,111.1 231.7,108.9 231.7,110.8 231.8,109.7 231.8,114.9 231.9,112.3 231.9,112.1 232,112.5 232,111.3 232.1,110.4 232.1,115 232.2,112.4 232.2,115.1 232.3,113.5 232.3,110.1 232.4,113.5 232.4,109.2 232.5,109.9 232.5,109 232.6,116 232.6,109.9 232.7,105.4 232.7,110.8 232.8,109.7 232.8,115.1 232.9,111.5 232.9,113.8 233,112.8 233,115 233.1,112.4 233.1,116.4 233.2,113.3 233.2,111.9 233.3,111.7 233.3,108.1 233.4,112.1 233.4,109.5 233.5,113.1 233.5,108.3 233.6,113.6 233.6,110.5 233.7,112.4 233.7,113.4 233.8,111.6 233.8,110.8 233.9,114.4 233.9,111.7 234,111.9 234,109 234.1,112.8 234.1,106.3 234.2,107.2 234.2,111.7 234.3,111 234.3,105.7 234.4,111.6 234.4,115.1 234.5,108.5 234.5,112.1 234.6,110.1 234.6,111.1 234.7,111.2 234.7,110.3 234.8,111.4 234.8,112.1 234.9,110.5 234.9,111.8 235,113 235.1,112.1 235.1,112.7 235.2,111.5 235.2,112.1 235.3,114.3 235.3,112.5 235.4,110.9 235.4,110.6 235.5,109.9 235.5,114.7 235.6,111.9 235.6,112.6 235.7,110.6 235.7,109 235.8,109.8 235.8,112.9 235.9,111.6 235.9,105.6 236,110.9 236,111.5 236.1,111.1 236.1,111.6 236.2,117.4 236.2,115.8 236.3,109.6 236.3,108.9 236.4,109.5 236.4,110.1 236.5,111.2 236.5,113.3 236.6,110.2 236.6,113.7 236.7,112 236.7,110.5 236.8,109.7 236.8,110 236.9,111.2 236.9,111 237,109.4 237,109.8 237.1,111.1 237.1,108.7 237.2,118.4 237.2,110.3 237.3,110.8 237.3,111.8 237.4,107 237.4,111.4 237.5,111 237.5,114.2 237.6,112.5 237.6,111.1 237.7,112.2 237.7,109.1 237.8,110.7 237.8,108.2 237.9,110.7 237.9,110.7 238,111.6 238,111.3 238.1,113.3 238.1,111.1 238.2,110.3 238.2,108.6 238.3,112.1 238.3,108.5 238.4,114.8 238.4,112.8 238.5,112.8 238.5,110.1 238.6,113.4 238.6,108.8 238.7,111.2 238.7,112 238.8,110.3 238.8,111.7 238.9,111.4 238.9,111.2 239,113.4 239,112.6 239.1,111.9 239.1,111.9 239.2,111.7 239.2,110.5 239.3,111.2 239.3,108.3 239.4,112.2 239.4,111.9 239.5,107.2 239.5,110 239.6,108.6 239.7,111.7 239.7,108.5 239.8,111.7 239.8,114.6 239.9,109.4 239.9,113.2 240,111.4 240,110.4 240.1,112.7 240.1,112.9 240.2,113.8 240.2,115.2 240.3,109.2 240.3,111.6 240.4,116 240.4,108.4 240.5,105.9 240.5,103 240.6,100.7 240.6,98.8 240.7,100.9 240.7,102.5 240.8,106.4 240.8,108.9 240.9,111.9 240.9,112.7 241,113.6 241,116 241.1,119 241.1,121.5 241.2,124.2 241.2,121.3 241.3,119.5 241.3,117 241.4,114.7 241.4,113.7 241.5,114.7 241.5,112.8 241.6,112.8 241.6,109.7 241.7,110.4 241.7,110.5 241.8,110.1 241.8,108.5 241.9,113.3 241.9,112.7 242,111.6 242,107.7 242.1,112.1 242.1,114.3 242.2,111.8 242.2,112.9 242.3,109.7 242.3,107.7 242.4,110.3 242.4,111.7 242.5,112.5 242.5,111.8 242.6,110.5 242.6,113.1 242.7,112.2 242.7,107.8 242.8,111 242.8,108.2 242.9,109.4 242.9,109.7 243,109.3 243,112.8 243.1,110.6 243.1,109.3 243.2,110.6 243.2,110.5 243.3,108.5 243.3,110.2 243.4,108.6 243.4,112.3 243.5,110 243.5,111.6 243.6,111.5 243.6,109.3 243.7,112.7 243.7,113.4 243.8,110.2 243.8,112.8 243.9,111.7 243.9,109.7 244,111.5 244,112 244.1,110.3 244.1,110.7 244.2,110.8 244.2,111.5 244.3,118.4 244.4,111.6 244.4,109.1 244.5,110.4 244.5,113.4 244.6,112.5 244.6,113.8 244.7,112.9 244.7,109.1 244.8,108.4 244.8,115.2 244.9,111.6 244.9,114 245,111.1 245,110.8 245.1,108.4 245.1,109.6 245.2,111.5 245.2,109.1 245.3,110.3 245.3,110 245.4,108.7 245.4,111.2 245.5,108.9 245.5,109.7 245.6,113.4 245.6,109.6 245.7,111.1 245.7,107.1 245.8,110 245.8,112.9 245.9,111.8 245.9,113.4 246,109.2 246,112.4 246.1,112.5 246.1,118.5 246.2,111 246.2,110.9 246.3,110.8 246.3,109.8 246.4,112.1 246.4,110.2 246.5,111.6 246.5,115.1 246.6,112.9 246.6,108.6 246.7,112.2 246.7,111.6 246.8,114.9 246.8,115.1 246.9,110.9 246.9,110.7 247,110 247,112.9 247.1,111 247.1,113.1 247.2,111 247.2,112.3 247.3,112.8 247.3,108.9 247.4,112.8 247.4,111.8 247.5,112.9 247.5,117.4 247.6,113.1 247.6,111.4 247.7,110.1 247.7,110.2 247.8,111.1 247.8,110.4 247.9,113.6 247.9,112.4 248,110.6 248,112 248.1,110.4 248.1,112.4 248.2,111.8 248.2,111.7 248.3,111.7 248.3,112.2 248.4,111.9 248.4,114.2 248.5,111.6 248.5,111.9 248.6,110.8 248.6,114.4 248.7,113.9 248.7,108.9 248.8,106.1 248.8,112.7 248.9,111.9 249,112.8 249,110.2 249.1,110.6 249.1,115.4 249.2,110 249.2,111.6 249.3,110.8 249.3,108 249.4,110.1 249.4,111.9 249.5,109.2 249.5,113.1 249.6,109.8 249.6,111.3 249.7,112.7 249.7,111.2 249.8,109.8 249.8,113.4 249.9,109.8 249.9,115.3 250,109.8 250,116.9 250.1,113.4 250.1,116 250.2,107.5 250.2,113.2 250.3,113.7 250.3,113 250.4,109.5 250.4,112 250.5,114.1 250.5,113.9 250.6,107.6 250.6,109.9 250.7,106.2 250.7,111.8 250.8,106.1 250.8,112.1 250.9,111.2 250.9,115 251,111.3 251,109.6 251.1,109.7 251.1,114 251.2,110.4 251.2,109.9 251.3,111 251.3,110.4 251.4,114.7 251.4,112.6 251.5,109.4 251.5,112.6 251.6,110.4 251.6,108.4 251.7,106.6 251.7,105.7 251.8,104.3 251.8,103.4 251.9,105.8 251.9,106.2 252,108.3 252,109.2 252.1,107.4 252.1,111.3 252.2,110.4 252.2,111 252.3,110.4 252.3,113.9 252.4,110.7 252.4,110.7 252.5,110.5 252.5,110.2 252.6,111.2 252.6,108.5 252.7,111.5 252.7,111.4 252.8,113.1 252.8,112.9 252.9,112.6 252.9,113.4 253,109.1 253,110.5 253.1,113.4 253.1,112.7 253.2,112.2 253.2,109.4 253.3,110.4 253.3,109.9 253.4,112.3 253.4,111.4 253.5,111.6 253.6,114.5 253.6,113.7 253.7,110.6 253.7,113.6 253.8,111.3 253.8,110 253.9,114.8 253.9,113.6 254,115.8 254,112.7 254.1,111.5 254.1,114.8 254.2,112.1 254.2,111 254.3,108.7 254.3,111.3 254.4,111 254.4,109.6 254.5,111.3 254.5,109.1 254.6,113.8 254.6,112.1 254.7,109.2 254.7,113.1 254.8,110.9 254.8,111.1 254.9,110 254.9,113.5 255,114.6 255,117.4 255.1,115.2 255.1,110.3 255.2,111 255.2,111.9 255.3,112 255.3,110.1 255.4,111 255.4,111.9 255.5,110.9 255.5,114 255.6,111.1 255.6,112 255.7,112.9 255.7,113.8 255.8,114.5 255.8,112.4 255.9,113 255.9,112.9 256,111.1 256,113.4 256.1,112.8 256.1,113.5 256.2,110.7 256.2,112.5 256.3,112 256.3,109.4 256.4,109 256.4,113.1 256.5,111.5 256.5,111.5 256.6,111.9 256.6,111.6 256.7,113.4 256.7,113.9 256.8,114.3 256.8,111.2 256.9,114.7 256.9,110.8 257,109.8 257,113.3 257.1,109.2 257.1,110.4 257.2,110.3 257.2,109.5 257.3,113.7 257.3,110.2 257.4,111.5 257.4,114.1 257.5,111 257.5,111.9 257.6,110 257.6,115.2 257.7,111.4 257.7,113.3 257.8,110.1 257.8,110.8 257.9,115.5 257.9,113.3 258,113.2 258,110.4 258.1,109 258.1,112.5 258.2,114.3 258.3,110 258.3,111.9 258.4,108 258.4,111.8 258.5,114.3 258.5,109.8 258.6,113.5 258.6,111.6 258.7,111.5 258.7,107.1 258.8,109.7 258.8,112.4 258.9,111.3 258.9,108.8 259,107.8 259,105 259.1,102.9 259.1,103.3 259.2,104.7 259.2,104.9 259.3,107.2 259.3,109.6 259.4,110 259.4,108.3 259.5,108.1 259.5,113.6 259.6,111.4 259.6,113.5 259.7,110.5 259.7,110.7 259.8,108.5 259.8,109.6 259.9,109.5 259.9,111.8 260,109.7 260,108.6 260.1,110 260.1,109.5 260.2,109.2 260.2,109.6 260.3,113.8 260.3,114.4 260.4,113.2 260.4,111.1 260.5,111.9 260.5,112.6 260.6,108.5 260.6,113.1 260.7,114.1 260.7,113.2 260.8,114.2 260.8,110 260.9,115 260.9,111.2 261,113.6 261,111.6 261.1,113.8 261.1,107.2 261.2,110.1 261.2,115 261.3,108.5 261.3,112.3 261.4,111.9 261.4,112.9 261.5,111 261.5,113.2 261.6,106.6 261.6,104.6 261.7,110 261.7,112 261.8,114 261.8,111.2 261.9,110.9 261.9,108.4 262,111.4 262,111.1 262.1,111.9 262.1,110.1 262.2,110.8 262.2,108.9 262.3,111.5 262.3,110.3 262.4,111.2 262.4,109.7 262.5,112.7 262.5,113.8 262.6,109.1 262.6,109.1 262.7,114.9 262.7,111.9 262.8,109.4" fill="none" stroke="#0072BD" stroke-width="0.55" stroke-linejoin="round"/>
<path d="M151.3 101.6V185.4" stroke="#0072BD" stroke-width="1"/>
<path d="M151.3 26.6V101.6" stroke="#0072BD" stroke-width="0.8" stroke-opacity="0.5"/>
<path d="M150.0 9V185.4" stroke="#222" stroke-width="1.8" stroke-dasharray="1 1.3" fill="none"/>
<rect x="38.6" y="9.0" width="224.50000000000003" height="176.4" fill="none" stroke="#9c9c9c" stroke-width="1.5"/>
<path d="M38.6 185.4v-1.8M38.6 9.0v1.8" stroke="#555" stroke-width="0.5"/>
<text x="38.6" y="195.9" text-anchor="middle" class="tk">0</text>
<path d="M66.7 185.4v-1.8M66.7 9.0v1.8" stroke="#555" stroke-width="0.5"/>
<text x="66.7" y="195.9" text-anchor="middle" class="tk">0.5</text>
<path d="M94.7 185.4v-1.8M94.7 9.0v1.8" stroke="#555" stroke-width="0.5"/>
<text x="94.7" y="195.9" text-anchor="middle" class="tk">1</text>
<path d="M122.8 185.4v-1.8M122.8 9.0v1.8" stroke="#555" stroke-width="0.5"/>
<text x="122.8" y="195.9" text-anchor="middle" class="tk">1.5</text>
<path d="M150.9 185.4v-1.8M150.9 9.0v1.8" stroke="#555" stroke-width="0.5"/>
<text x="150.9" y="195.9" text-anchor="middle" class="tk">2</text>
<path d="M178.9 185.4v-1.8M178.9 9.0v1.8" stroke="#555" stroke-width="0.5"/>
<text x="178.9" y="195.9" text-anchor="middle" class="tk">2.5</text>
<path d="M207.0 185.4v-1.8M207.0 9.0v1.8" stroke="#555" stroke-width="0.5"/>
<text x="207.0" y="195.9" text-anchor="middle" class="tk">3</text>
<path d="M235.0 185.4v-1.8M235.0 9.0v1.8" stroke="#555" stroke-width="0.5"/>
<text x="235.0" y="195.9" text-anchor="middle" class="tk">3.5</text>
<path d="M263.1 185.4v-1.8M263.1 9.0v1.8" stroke="#555" stroke-width="0.5"/>
<text x="263.1" y="195.9" text-anchor="middle" class="tk">4</text>
<path d="M38.6 185.4h1.8M263.1 185.4h-1.8" stroke="#555" stroke-width="0.5"/>
<text x="36.0" y="188.6" text-anchor="end" class="tk" style="letter-spacing:-0.45px">1</text>
<path d="M38.6 163.3h1.8M263.1 163.3h-1.8" stroke="#555" stroke-width="0.5"/>
<text x="36.0" y="166.9" text-anchor="end" class="tk" style="letter-spacing:-0.45px">2</text>
<path d="M38.6 141.3h1.8M263.1 141.3h-1.8" stroke="#555" stroke-width="0.5"/>
<text x="36.0" y="144.9" text-anchor="end" class="tk" style="letter-spacing:-0.45px">3</text>
<path d="M38.6 119.2h1.8M263.1 119.2h-1.8" stroke="#555" stroke-width="0.5"/>
<text x="36.0" y="122.8" text-anchor="end" class="tk" style="letter-spacing:-0.45px">4</text>
<path d="M38.6 97.2h1.8M263.1 97.2h-1.8" stroke="#555" stroke-width="0.5"/>
<text x="36.0" y="100.8" text-anchor="end" class="tk" style="letter-spacing:-0.45px">5</text>
<path d="M38.6 75.2h1.8M263.1 75.2h-1.8" stroke="#555" stroke-width="0.5"/>
<text x="36.0" y="78.8" text-anchor="end" class="tk" style="letter-spacing:-0.45px">6</text>
<path d="M38.6 53.1h1.8M263.1 53.1h-1.8" stroke="#555" stroke-width="0.5"/>
<text x="36.0" y="56.7" text-anchor="end" class="tk" style="letter-spacing:-0.45px">7</text>
<path d="M38.6 31.1h1.8M263.1 31.1h-1.8" stroke="#555" stroke-width="0.5"/>
<text x="36.0" y="34.7" text-anchor="end" class="tk" style="letter-spacing:-0.45px">8</text>
<path d="M38.6 9.0h1.8M263.1 9.0h-1.8" stroke="#555" stroke-width="0.5"/>
<text x="36.0" y="13.7" text-anchor="end" class="tk" style="letter-spacing:-0.45px">9</text>
<text x="149.7" y="206.7" text-anchor="middle" class="lb">Time [s]</text>
<text x="148.9" y="215.1" text-anchor="middle" class="cp" style="font-size:9px">(a)</text>
<text transform="translate(13.3,87.3) rotate(-90)" text-anchor="middle" class="lb">Integral</text>
<path d="M37.5 42.8H149.1" stroke="#2a86dc" stroke-width="1.3" stroke-dasharray="5.7 3.2" fill="none"/>
<path d="M41.5 39.199999999999996L37.5 42.8L41.5 46.4M145.1 39.199999999999996L149.1 42.8L145.1 46.4" stroke="#2a86dc" stroke-width="1" fill="none"/>
<path d="M151.9 42.8H260.8" stroke="#ff2d2d" stroke-width="1.3" stroke-dasharray="5.7 3.2" fill="none"/>
<path d="M155.9 39.199999999999996L151.9 42.8L155.9 46.4M256.8 39.199999999999996L260.8 42.8L256.8 46.4" stroke="#ff2d2d" stroke-width="1" fill="none"/>
<text x="82.3" y="40.2" text-anchor="middle" class="an" fill="#1468d2" stroke="#1468d2">Normal state</text>
<text x="219.8" y="40.2" text-anchor="middle" class="an" fill="#ff1414" stroke="#ff1414">Arcing state</text>
<polyline points="318.9,144.4 318.9,159.9 319.2,159.4 319.2,139.1 319.4,147.9 319.4,162 319.7,161.7 319.7,134.6 319.9,145.6 319.9,158 320.2,155.9 320.2,142.4 320.4,140.8 320.4,154.6 320.7,157.8 320.7,140.8 320.9,146.9 320.9,154.1 321.2,155.3 321.2,136.5 321.4,146 321.4,158.2 321.7,153.6 321.7,145.4 321.9,138.6 321.9,157.6 322.2,157.3 322.2,145.7 322.4,136.1 322.4,161.6 322.7,156.7 322.7,140.7 322.9,144.9 322.9,156.1 323.2,159.5 323.2,139.5 323.4,141.8 323.4,156.1 323.7,160.1 323.7,141.8 323.9,144.2 323.9,156.3 324.2,157.1 324.2,141.8 324.4,141.6 324.4,158.1 324.7,155.6 324.7,148.1 324.9,143 324.9,157.9 325.2,154.6 325.2,144.2 325.4,128.4 325.4,155.5 325.7,158.4 325.7,128.4 325.9,138.2 325.9,157.3 326.2,164.3 326.2,143.5 326.4,144 326.4,159.3 326.7,156.7 326.7,144 326.9,142.4 326.9,152.9 327.2,160.9 327.2,142.4 327.4,144 327.4,155.7 327.7,156.9 327.7,140.1 327.9,145.7 327.9,156.1 328.2,160.6 328.2,130.8 328.4,142.4 328.4,154.6 328.7,155.5 328.7,137.6 328.9,138.5 328.9,158.3 329.2,156.4 329.2,138.5 329.4,138.2 329.4,157.1 329.7,163.5 329.7,141.3 329.9,141.3 329.9,155 330.2,157.1 330.2,140.1 330.4,140.1 330.4,156.3 330.7,161.7 330.7,142 330.9,142 330.9,161.7 331.2,156.5 331.2,146 331.4,142 331.4,156.2 331.7,157.2 331.7,145.3 331.9,145 331.9,158 332.2,157.6 332.2,134.3 332.4,134.3 332.4,158.6 332.7,159.5 332.7,140.7 332.9,140.7 332.9,153.1 333.2,162.6 333.2,137.4 333.4,140 333.4,161.3 333.7,153.6 333.7,141.7 333.9,140.4 333.9,155.8 334.2,157.5 334.2,139.3 334.4,142.8 334.4,159.5 334.7,159.5 334.7,136.4 334.9,136.4 334.9,157.5 335.2,152.5 335.2,142.3 335.4,141.3 335.4,157 335.7,157 335.7,141.3 335.9,138.6 335.9,158 336.2,155.4 336.2,142 336.4,137.1 336.4,158.4 336.7,155.6 336.7,142.1 336.9,142.1 336.9,155.6 337.2,160.2 337.2,141.2 337.4,145.7 337.4,154.8 337.7,155.7 337.7,146.9 337.9,137.2 337.9,155.6 338.2,159 338.2,137.2 338.4,144.5 338.4,158.9 338.7,158.9 338.7,145.4 338.9,140 338.9,156.9 339.2,162.2 339.2,145.4 339.4,142.5 339.4,155.4 339.7,155.9 339.7,139.4 339.9,139.4 339.9,155.8 340.2,156.8 340.2,141.1 340.4,141.1 340.4,156.4 340.7,157.8 340.7,143.7 340.9,140 340.9,158.6 341.2,153.2 341.2,140 341.4,142.6 341.4,157.4 341.7,157.4 341.7,140.1 341.9,144.3 341.9,157.8 342.2,158.6 342.2,142.8 342.4,142.8 342.4,158.8 342.7,156.5 342.7,145.1 342.9,147.8 342.9,158 343.2,158.9 343.2,145.4 343.4,144.6 343.4,158.9 343.7,156.3 343.7,142.2 343.9,142.1 343.9,157.8 344.2,155.9 344.2,142.4 344.4,145.5 344.4,158.1 344.7,158.9 344.7,142.3 344.9,146.3 344.9,158.9 345.2,157.1 345.2,144.8 345.4,141.1 345.4,156.4 345.7,155.5 345.7,138.8 345.9,138.8 345.9,153.6 346.2,154.6 346.2,144.3 346.4,142.3 346.4,151.4 346.7,157 346.7,142.3 346.9,144.3 346.9,154.8 347.2,157.9 347.2,146.4 347.4,144 347.4,158.5 347.7,156.3 347.7,133 347.9,142.6 347.9,164.2 348.2,155.9 348.2,141.1 348.4,140.3 348.4,158.1 348.7,158.1 348.7,128.5 348.9,144.6 348.9,158.1 349.2,159.8 349.2,143.1 349.4,142.5 349.4,157.1 349.7,163.3 349.7,142.5 349.9,142.3 349.9,163.3 350.2,156 350.2,143 350.4,145.3 350.4,158.1 350.7,156.5 350.7,137.4 350.9,143.3 350.9,158.9 351.2,155.7 351.2,141.2 351.4,138.8 351.4,155.7 351.7,158.6 351.7,134.1 351.9,140.3 351.9,158.7 352.2,158.7 352.2,143.3 352.4,145.6 352.4,160.8 352.7,160.8 352.7,143.1 352.9,137.9 352.9,155.8 353.2,155.9 353.2,143.3 353.4,143.2 353.4,155.9 353.7,155.8 353.7,132.5 353.9,142.4 353.9,159.3 354.2,155.9 354.2,143.4 354.4,144.1 354.4,160.7 354.7,160.7 354.7,144.3 354.9,144.5 354.9,154.6 355.2,154.9 355.2,139.2 355.4,143.4 355.4,159.7 355.7,159.7 355.7,146.4 355.9,142.1 355.9,157.1 356.2,162.4 356.2,142.1 356.4,143.4 356.4,162.4 356.7,159.9 356.7,131.8 356.9,141.5 356.9,155.3 357.2,155.3 357.2,140.2 357.4,145 357.4,157.6 357.7,159 357.7,130.3 357.9,137.4 357.9,159.2 358.2,154.5 358.2,143.4 358.4,135.7 358.4,155 358.7,157 358.7,144.5 358.9,141.9 358.9,153.3 359.2,154.2 359.2,142.3 359.4,142.3 359.4,160.9 359.7,158.2 359.7,141.3 359.9,143.2 359.9,153.5 360.2,157.3 360.2,138.2 360.4,142.8 360.4,154.7 360.7,156.1 360.7,142.7 360.9,142.9 360.9,162 361.2,158.5 361.2,143.9 361.4,142.1 361.4,154.3 361.7,155.7 361.7,142.6 361.9,142.6 361.9,155.7 362.2,161.8 362.2,145.7 362.4,144.9 362.4,161.8 362.7,157.4 362.7,142.7 362.9,144.1 362.9,155.8 363.2,159.3 363.2,141.3 363.4,139 363.4,158.1 363.7,158.1 363.7,137.4 363.9,137.5 363.9,153 364.2,162.3 364.2,135.9 364.4,141.3 364.4,162.3 364.7,151 364.7,142.4 364.9,145.8 364.9,159.5 365.2,155.8 365.2,144.4 365.4,143.4 365.4,157.8 365.7,162.7 365.7,144.3 365.9,142.7 365.9,155 366.2,155.2 366.2,143.3 366.4,139.7 366.4,156.5 366.7,158.3 366.7,139.7 366.9,143.4 366.9,158.3 367.2,156.7 367.2,144.6 367.4,142.9 367.4,159.4 367.7,154.7 367.7,141.3 367.9,141.8 367.9,158.3 368.2,160.3 368.2,143.4 368.4,143.6 368.4,159.9 368.7,159.9 368.7,144.9 368.9,142.5 368.9,155.8 369.2,158.5 369.2,139.6 369.4,144.9 369.4,159.1 369.7,155 369.7,141.2 369.9,143.9 369.9,157.3 370.2,154.8 370.2,138.3 370.4,138.3 370.4,157.7 370.7,158.1 370.7,140.8 370.9,133.7 370.9,158.1 371.2,153.6 371.2,142.6 371.4,142.6 371.4,153 371.7,155.2 371.7,141.2 371.9,136.5 371.9,158.3 372.2,158.8 372.2,139.8 372.4,142.4 372.4,157.7 372.7,157.5 372.7,130.5 372.9,141.2 372.9,154.7 373.2,156.1 373.2,140.7 373.4,131.5 373.4,159.6 373.7,155 373.7,142.2 373.9,135 373.9,153.4 374.2,154.8 374.2,142.8 374.4,136.5 374.4,159.9 374.7,155.3 374.7,143.1 374.9,144.6 374.9,154.6 375.2,158.8 375.2,145.6 375.4,137.6 375.4,156.7 375.7,156 375.7,141.8 375.9,146.8 375.9,156.3 376.2,159.9 376.2,142.8 376.4,141.7 376.4,158.5 376.7,159.8 376.7,145.1 376.9,143.9 376.9,156 377.2,152.1 377.2,140.1 377.4,142.6 377.4,156.6 377.7,153.4 377.7,144.9 377.9,141.6 377.9,155.6 378.2,157.4 378.2,144.8 378.4,145.1 378.4,158.7 378.7,158.7 378.7,143.5 378.9,135.3 378.9,154.9 379.2,155.8 379.2,136.1 379.4,144.6 379.4,158.2 379.7,154 379.7,143 379.9,139.9 379.9,153.6 380.2,155.5 380.2,142.1 380.4,142.1 380.4,157.5 380.7,156.6 380.7,145.4 380.9,146.2 380.9,153.6 381.2,157.8 381.2,140.3 381.4,142 381.4,160.2 381.7,159.9 381.7,143.8 381.9,144.1 381.9,156.4 382.2,158.3 382.2,145.4 382.4,145.3 382.4,158.2 382.7,154.8 382.7,142.3 382.9,144.8 382.9,162.8 383.2,158.3 383.2,132.8 383.4,139.7 383.4,162.2 383.7,154.4 383.7,147.7 383.9,138.7 383.9,158.5 384.2,157.6 384.2,139.1 384.4,141.9 384.4,156.7 384.7,161.7 384.7,143.9 384.9,146.1 384.9,161.7 385.2,159 385.2,145 385.4,141.8 385.4,158.1 385.7,156.3 385.7,141.8 385.9,146.8 385.9,156.3 386.2,159.1 386.2,144.7 386.4,141.1 386.4,162.5 386.7,154.3 386.7,139.4 386.9,139.3 386.9,158 387.2,158.3 387.2,139.7 387.4,141.3 387.4,159.3 387.7,159.1 387.7,141.3 387.9,142.5 387.9,158.3 388.2,160.5 388.2,128.8 388.4,139.5 388.4,159.3 388.7,157.7 388.7,141.6 388.9,143.7 388.9,157.7 389.2,155.6 389.2,146.4 389.4,146.3 389.4,156.3 389.7,156.4 389.7,144.7 389.9,143.6 389.9,155.3 390.2,155 390.2,138.3 390.4,148 390.4,163.8 390.7,154.9 390.7,143.6 390.9,144 390.9,158.3 391.2,158.8 391.2,141 391.4,145.6 391.4,153.9 391.7,157.3 391.7,144.1 391.9,144.2 391.9,157.9 392.2,156.7 392.2,137.5 392.4,146.8 392.4,156.7 392.7,158.9 392.7,145.7 392.9,136.9 392.9,153.5 393.2,156 393.2,142.4 393.4,145.5 393.4,155.6 393.7,155.8 393.7,144.4 393.9,142.8 393.9,160 394.2,156 394.2,143.6 394.4,143.3 394.4,158.1 394.7,158.9 394.7,144.2 394.9,144.4 394.9,153.8 395.2,159.3 395.2,136.9 395.4,136.9 395.4,156.5 395.7,158.5 395.7,144.8 395.9,141.2 395.9,165.5 396.2,158.1 396.2,134.8 396.4,140.6 396.4,160.2 396.7,160.3 396.7,141.3 396.9,140.4 396.9,158.5 397.2,154.3 397.2,143.4 397.4,142.4 397.4,156.3 397.7,158.9 397.7,137.1 397.9,141.5 397.9,152.7 398.2,153.7 398.2,141.5 398.4,140.7 398.4,156.1 398.7,158.6 398.7,141.8 398.9,140.3 398.9,154.1 399.2,155.7 399.2,139.1 399.4,144.9 399.4,155.8 399.7,158.9 399.7,142.4 399.9,144.3 399.9,161.1 400.2,153.7 400.2,140.2 400.4,144 400.4,156.5 400.7,162 400.7,136.3 400.9,147.4 400.9,155.6 401.2,162.3 401.2,144.4 401.4,146.1 401.4,162.5 401.7,156 401.7,142.5 401.9,141.2 401.9,154.9 402.2,158.1 402.2,146.6 402.4,145.8 402.4,156.9 402.7,159.7 402.7,143.5 402.9,144.8 402.9,155.8 403.2,155.5 403.2,137.8 403.4,137.5 403.4,159.5 403.7,159.5 403.7,139 403.9,135.7 403.9,156.4 404.2,162.2 404.2,143.3 404.4,141.3 404.4,158.3 404.7,155.3 404.7,141 404.9,144.5 404.9,158.5 405.2,157.4 405.2,147.9 405.4,141.2 405.4,153.6 405.7,157.6 405.7,144.9 405.9,139.6 405.9,155 406.2,156.7 406.2,140.4 406.4,145.3 406.4,155.3 406.7,160.8 406.7,146.2 406.9,144 406.9,158.9 407.2,158.5 407.2,144.2 407.4,142.3 407.4,157.2 407.7,157.7 407.7,139.5 407.9,143.4 407.9,155.4 408.2,156.6 408.2,141.6 408.4,141.6 408.4,160.1 408.7,160.1 408.7,143.3 408.9,141.5 408.9,155.1 409.2,160.8 409.2,135.9 409.4,143.7 409.4,160.8 409.7,158.4 409.7,141.8 409.9,141.8 409.9,151.5 410.2,159.2 410.2,143 410.4,138.4 410.4,157.2 410.7,157 410.7,144.2 410.9,141.7 410.9,156.8 411.2,156.1 411.2,140.7 411.4,137.7 411.4,157.5 411.7,158.7 411.7,144.8 411.9,144.9 411.9,158.7 412.2,154.1 412.2,142.1 412.4,143.3 412.4,163.7 412.7,161.5 412.7,143.3 412.9,137.9 412.9,157.3 413.2,157.7 413.2,143.8 413.4,127.9 413.4,159.4 413.7,156.7 413.7,127.9 413.9,141.5 413.9,155.3 414.2,155.3 414.2,140.3 414.4,142.6 414.4,157.9 414.7,159.6 414.7,146.3 414.9,145.7 414.9,155.3 415.2,157.5 415.2,142.3 415.4,142.8 415.4,157.5 415.7,157.4 415.7,144.6 415.9,142.2 415.9,154 416.2,155.6 416.2,138.7 416.4,143.3 416.4,160.1 416.7,160.7 416.7,146.9 416.9,143.7 416.9,157.8 417.2,154.2 417.2,143.7 417.4,146.1 417.4,154.8 417.7,154.7 417.7,145.6 417.9,139 417.9,157.9 418.2,157.9 418.2,144.8 418.4,144.4 418.4,157.7 418.7,157.7 418.7,142.3 418.9,140.2 418.9,165.5 419.2,155.4 419.2,138.9 419.4,138.9 419.4,159.4 419.7,161.3 419.7,143 419.9,142.7 419.9,157.8 420.2,157.8 420.2,143.6 420.4,143.6 420.4,157.1 420.7,159 420.7,142 420.9,141.6 420.9,162.5 421.2,156.9 421.2,144 421.4,140.2 421.4,156.9 421.7,156.5 421.7,140.2 421.9,136 421.9,157.7 422.2,160.1 422.2,143.7 422.4,143.7 422.4,158.5 422.7,160.4 422.7,142.9 422.9,136.7 422.9,152.4 423.2,156.9 423.2,138.9 423.4,138.9 423.4,153.7 423.7,154.5 423.7,138.4 423.9,142.8 423.9,157.4 424.2,162.3 424.2,145.7 424.4,143.2 424.4,162.3 424.7,154.6 424.7,136.8 424.9,136.8 424.9,156.1 425.2,156.1 425.2,143.3 425.4,139.2 425.4,163.9 425.7,160.6 425.7,144.7 425.9,142.7 425.9,157.8 426.2,153.9 426.2,136.8 426.4,137.1 426.4,157.3 426.7,157.2 426.7,137.1 426.9,144.3 426.9,157.3 427.2,157.1 427.2,143 427.4,148 427.4,161.2 427.7,161.6 427.7,145.4 427.9,142 427.9,156.7 428.2,156.3 428.2,145.1 428.4,141.7 428.4,156.3 428.7,156 428.7,140.8 428.9,139.9 428.9,156.1 429.2,157.7 429.2,140.5 429.4,140.5 429.4,154.9 429.7,157.1 429.7,141 429.9,144.1 429.9,157.6 430.2,162.5 430.2,142 430.4,142.7 430.4,162.5 430.7,157.7 430.7,145 430.9,146.2 430.9,156.1 431.2,155.5 431.2,144.8 431.4,137 431.4,154.7 431.7,157.6 431.7,142.2 431.9,135.9 431.9,157.6 432.2,157 432.2,135.9 432.4,143.5 432.4,157.9 432.7,160.1 432.7,133.2 432.9,137.7 432.9,160.1 433.2,158.1 433.2,142 433.4,142.6 433.4,162.3 433.7,162.3 433.7,136.8 433.9,136.8 433.9,160.3 434.2,155.6 434.2,139.2 434.4,146.9 434.4,159.6 434.7,159.6 434.7,138.5 434.9,143.2 434.9,159.2 435.2,161.1 435.2,142.1 435.4,138.1 435.4,159.7 435.7,158.2 435.7,121.6 435.9,142.1 435.9,161.6 436.2,161.6 436.2,132.5 436.4,146.8 436.4,156.7 436.7,162.3 436.7,146.1 436.9,142.2 436.9,162.3 437.2,157.5 437.2,136.9 437.4,134.9 437.4,160.3 437.7,160.7 437.7,138.2 437.9,132 437.9,156.4 438.2,158.8 438.2,145.7 438.4,144.4 438.4,158.8 438.7,155.7 438.7,138.4 438.9,138.5 438.9,153.9 439.2,159.4 439.2,141 439.4,141 439.4,157.1 439.7,154.1 439.7,137.6 439.9,141.3 439.9,157.5 440.2,165.3 440.2,141.6 440.4,127.7 440.4,165.3 440.7,159.9 440.7,142 440.9,141.3 440.9,155.5 441.2,158.6 441.2,144.8 441.4,138.1 441.4,158 441.7,157.3 441.7,135.6 441.9,135.6 441.9,159 442.2,161.1 442.2,147.3 442.4,140.3 442.4,158.1 442.7,152 442.7,146.4 442.9,138.7 442.9,156 443.2,164.3 443.2,135.1 443.4,135.1 443.4,154.6 443.7,155.3 443.7,135.5 443.9,144.8 443.9,158.2 444.2,162.7 444.2,145.2 444.4,141.6 444.4,158.5 444.7,158 444.7,136.4 444.9,136.4 444.9,155.1 445.2,156 445.2,139.4 445.4,139 445.4,160.9 445.7,154.6 445.7,141.3 445.9,141.6 445.9,158.7 446.2,161 446.2,145 446.4,143 446.4,161 446.7,155.1 446.7,141 446.9,146.6 446.9,162.2 447.2,154.9 447.2,141.1 447.4,133.9 447.4,158.9 447.7,157.8 447.7,133.9 447.9,141.2 447.9,157.8 448.2,159.8 448.2,141.6 448.4,146.9 448.4,158.4 448.7,161.3 448.7,144.6 448.9,141.2 448.9,158.9 449.2,158.9 449.2,137.9 449.4,137.9 449.4,158.8 449.7,156.1 449.7,143.7 449.9,145.1 449.9,157.9 450.2,158.9 450.2,139.4 450.4,137.5 450.4,161 450.7,159.5 450.7,137.5 450.9,140.7 450.9,159.5 451.2,159.2 451.2,143.2 451.4,138.1 451.4,159.2 451.7,160 451.7,132.2 451.9,143.3 451.9,158.8 452.2,165 452.2,146.7 452.4,144.7 452.4,157 452.7,157 452.7,143.3 452.9,136.2 452.9,153.9 453.2,161.9 453.2,147.5 453.4,134.2 453.4,161.9 453.7,157.7 453.7,134.2 453.9,139.5 453.9,160.7 454.2,158.6 454.2,135.6 454.4,129.1 454.4,160.6 454.7,160.6 454.7,143.4 454.9,140.2 454.9,160.5 455.2,160.5 455.2,149.5 455.4,141.7 455.4,155.1 455.7,157.7 455.7,143.7 455.9,141.8 455.9,155.4 456.2,159 456.2,139.7 456.4,140.6 456.4,167.7 456.7,159.1 456.7,146 456.9,141.1 456.9,158 457.2,161.7 457.2,142.4 457.4,139.1 457.4,158.9 457.7,156.4 457.7,139.3 457.9,143.1 457.9,159.8 458.2,158.4 458.2,141.9 458.4,137.3 458.4,154.8 458.7,158.2 458.7,136.9 458.9,146.1 458.9,158.1 459.2,158 459.2,144.8 459.4,144.8 459.4,160.1 459.7,150.7 459.7,143.4 459.9,142.3 459.9,154.8 460.2,161.1 460.2,142.3 460.4,141.2 460.4,161.1 460.7,155.8 460.7,134.6 460.9,144.5 460.9,156.4 461.2,158.3 461.2,127.9 461.4,141.8 461.4,162.4 461.7,156.3 461.7,138.4 461.9,138.6 461.9,159.6 462.2,155.5 462.2,140.8 462.4,139 462.4,159.1 462.7,159.1 462.7,142.5 462.9,142.5 462.9,155.3 463.2,159.4 463.2,142.5 463.4,145.3 463.4,158.8 463.7,156.4 463.7,147.4 463.9,138.1 463.9,153.7 464.2,154.9 464.2,133.7 464.4,139.4 464.4,157.4 464.7,164.9 464.7,145.9 464.9,138.5 464.9,157.8 465.2,157.8 465.2,138.3 465.4,145.3 465.4,154.7 465.7,157.5 465.7,135.9 465.9,135 465.9,157.5 466.2,159 466.2,138.9 466.4,144 466.4,158.8 466.7,157.1 466.7,130.7 466.9,138.3 466.9,157.5 467.2,160 467.2,133.5 467.4,137.2 467.4,154.9 467.7,155.1 467.7,137.7 467.9,132.8 467.9,155.3 468.2,162.6 468.2,132.8 468.4,134.2 468.4,157.4 468.7,155.8 468.7,141.3 468.9,139.9 468.9,160.8 469.2,166 469.2,144.7 469.4,138.6 469.4,155.9 469.7,157.8 469.7,135.4 469.9,141.2 469.9,157.2 470.2,159 470.2,141.8 470.4,141.8 470.4,158.7 470.7,158.8 470.7,139.4 470.9,139.4 470.9,156.6 471.2,160.4 471.2,141.2 471.4,144.8 471.4,158.8 471.7,155.1 471.7,146 471.9,141.9 471.9,156.3 472.2,158.7 472.2,141.6 472.4,141.6 472.4,165.9 472.7,155.8 472.7,140.8 472.9,141.1 472.9,161 473.2,157.3 473.2,140 473.4,138.6 473.4,155 473.7,162.7 473.7,138.6 473.9,144.9 473.9,160.1 474.2,160.1 474.2,135.8 474.4,143.3 474.4,158.9 474.7,152.2 474.7,137.7 474.9,140.6 474.9,159.6 475.2,160.8 475.2,139.7 475.4,141.2 475.4,160.8 475.7,157.6 475.7,144.8 475.9,139.7 475.9,157.5 476.2,160 476.2,144.6 476.4,143.6 476.4,155.1 476.7,158.1 476.7,146.1 476.9,141.8 476.9,158.1 477.2,155.3 477.2,137.5 477.4,140.4 477.4,160 477.7,157.7 477.7,142.8 477.9,142.5 477.9,158.4 478.2,159.2 478.2,139.8 478.4,140.2 478.4,159.2 478.7,160.9 478.7,128.2 478.9,139.2 478.9,158.3 479.2,158.3 479.2,142.4 479.4,141.3 479.4,155 479.7,157.2 479.7,137.3 479.9,143.2 479.9,155.8 480.2,155 480.2,143.9 480.4,144.3 480.4,167.6 480.7,161.7 480.7,139.1 480.9,132 480.9,156 481.2,155.1 481.2,138.4 481.4,145 481.4,159.1 481.7,158.5 481.7,144 481.9,133.5 481.9,159.1 482.2,159.1 482.2,138.5 482.4,141.4 482.4,167.9 482.7,159.6 482.7,140.8 482.9,140.3 482.9,159.6 483.2,155.9 483.2,142 483.4,139.6 483.4,161.3 483.7,156.3 483.7,140.6 483.9,142 483.9,156.4 484.2,159.3 484.2,135.9 484.4,142.8 484.4,158.1 484.7,162.5 484.7,143.6 484.9,138.8 484.9,162.5 485.2,157 485.2,138.8 485.4,141.8 485.4,156.5 485.7,156.1 485.7,147.4 485.9,142.5 485.9,161.8 486.2,161.8 486.2,143.5 486.4,139.7 486.4,161.9 486.7,161.9 486.7,139.7 486.9,138.5 486.9,160.6 487.2,167.2 487.2,136.9 487.4,141.1 487.4,157.8 487.7,154.2 487.7,140.5 487.9,132.4 487.9,150.4 488.2,158.4 488.2,143 488.4,141.8 488.4,160.7 488.7,160.5 488.7,141.8 488.9,137.2 488.9,157.2 489.2,157.6 489.2,139.5 489.4,144.6 489.4,156.6 489.7,155.5 489.7,142.7 489.9,142 489.9,155.7 490.2,161.5 490.2,134.1 490.4,136 490.4,164.1 490.7,155.6 490.7,144.4 490.9,142.9 490.9,159.2 491.2,155.2 491.2,145 491.4,144.4 491.4,157.6 491.7,160.5 491.7,143.5 491.9,137 491.9,157.9 492.2,158.2 492.2,137 492.4,142.8 492.4,157.9 492.7,154.7 492.7,136.2 492.9,141.5 492.9,158.8 493.2,158.2 493.2,146.3 493.4,140.9 493.4,157.5 493.7,160.7 493.7,142.6 493.9,138.5 493.9,156.8 494.2,163.3 494.2,137.9 494.4,139.3 494.4,158.6 494.7,158.7 494.7,144.9 494.9,143.1 494.9,156.3 495.2,161.2 495.2,139.5 495.4,144.7 495.4,161 495.7,165.3 495.7,148.8 495.9,139 495.9,154.8 496.2,153.2 496.2,139.4 496.4,145.1 496.4,158.9 496.7,156.4 496.7,139.3 496.9,138.6 496.9,159.4 497.2,159.4 497.2,143.4 497.4,141.2 497.4,159.2 497.7,160.6 497.7,141.2 497.9,139.9 497.9,160 498.2,159 498.2,147.2 498.4,142.9 498.4,159 498.7,157.5 498.7,145 498.9,146.7 498.9,156.3 499.2,155.8 499.2,142.1 499.4,125 499.4,153.2 499.7,158.2 499.7,139.5 499.9,143.4 499.9,154.1 500.2,158.1 500.2,126.9 500.4,137.7 500.4,157.8 500.7,157.8 500.7,136.4 500.9,143.2 500.9,154.7 501.2,156.9 501.2,144.3 501.4,142.5 501.4,156.9 501.7,156.8 501.7,141.4 501.9,136.1 501.9,158.1 502.2,156.4 502.2,138.1 502.4,139.1 502.4,156.4 502.7,153.7 502.7,137.9 502.9,145.1 502.9,154.1 503.2,160.7 503.2,139.4 503.4,146.2 503.4,157.5 503.7,156.1 503.7,133.1 503.9,139.3 503.9,158.2 504.2,165.1 504.2,141.5 504.4,143.7 504.4,155.3 504.7,155.4 504.7,144.9 504.9,145.7 504.9,157.3 505.2,160.7 505.2,143.9 505.4,145.2 505.4,155.4 505.7,156.9 505.7,146 505.9,135.5 505.9,154.4 506.2,158.8 506.2,135.5 506.4,139 506.4,154.2 506.7,157.2 506.7,139 506.9,139.9 506.9,161.1 507.2,157.8 507.2,142.8 507.4,138.1 507.4,156.3 507.7,161.5 507.7,139.1 507.9,134.7 507.9,156.7 508.2,158.9 508.2,138.8 508.4,138.8 508.4,160.9 508.7,157.5 508.7,143.1 508.9,141.3 508.9,158.9 509.2,157.8 509.2,141.3 509.4,138.9 509.4,153.7 509.7,156.6 509.7,141.8 509.9,141.8 509.9,159.2 510.2,156.4 510.2,131.5 510.4,140.5 510.4,158.4 510.7,161.5 510.7,140.5 510.9,141.9 510.9,157 511.2,161.5 511.2,143.7 511.4,145 511.4,164.8 511.7,158.1 511.7,145 511.9,144.2 511.9,160 512.2,161.9 512.2,141.2 512.4,144.5 512.4,160.4 512.7,159.1 512.7,138.2 512.9,143.3 512.9,158.6 513.2,154.1 513.2,140.9 513.4,141.3 513.4,162.7 513.7,157.1 513.7,145.4 513.9,136.3 513.9,158.9 514.2,157.2 514.2,133 514.4,133 514.4,163 514.7,163 514.7,133.5 514.9,132.4 514.9,158.1 515.2,158.1 515.2,133.3 515.4,144 515.4,158.9 515.7,158.9 515.7,144.7 515.9,132.8 515.9,158.4 516.2,160.1 516.2,137.4 516.4,143.9 516.4,160.1 516.7,159 516.7,135.4 516.9,145.4 516.9,154.6 517.2,157.5 517.2,137 517.4,143.1 517.4,156.6 517.7,159.9 517.7,132.9 517.9,140.7 517.9,158.1 518.2,160.9 518.2,146.5 518.4,141.1 518.4,158.2 518.7,158.2 518.7,127.1 518.9,142.1 518.9,156.4 519.2,157.7 519.2,137.8 519.4,143.5 519.4,159.9 519.7,158.9 519.7,143.3 519.9,145.7 519.9,157.4 520.2,156.5 520.2,143.1 520.4,121.9 520.4,159.7 520.7,160.6 520.7,144.9 520.9,133.7 520.9,158.8 521.2,155.8 521.2,137.5 521.4,136.8 521.4,155.2 521.7,158 521.7,136.1 521.9,143 521.9,159.3 522.2,158.4 522.2,143.7 522.4,139 522.4,158.4 522.7,157 522.7,142.1 522.9,138.8 522.9,158.7 523.2,158.7 523.2,142.3 523.4,138.3 523.4,156.2 523.7,161.5 523.7,142.4 523.9,145.8 523.9,157.5 524.2,155.7 524.2,145.8 524.4,138.1 524.4,155.2 524.7,154.1 524.7,138.1 524.9,136.7 524.9,153.3 525.2,155.1 525.2,136.7 525.4,136.8 525.4,161.6 525.7,159.2 525.7,140.4 525.9,146 525.9,159.2 526.2,155.5 526.2,139.6 526.4,140.7 526.4,158.8 526.7,154.7 526.7,141.9 526.9,146.8 526.9,158.8 527.2,158 527.2,137.5 527.4,143.5 527.4,156.4 527.7,156.8 527.7,147 527.9,141.1 527.9,161.6 528.2,157.9 528.2,135.7 528.4,140.3 528.4,157.9 528.7,163.9 528.7,138.4 528.9,142.9 528.9,165.2 529.2,153.5 529.2,137.9 529.4,136.7 529.4,156.1 529.7,159.2 529.7,142.7 529.9,142.6 529.9,156.5 530.2,154.7 530.2,143.5 530.4,136.8 530.4,160.8 530.7,160.4 530.7,144.3 530.9,144.4 530.9,159.7 531.2,159.8 531.2,142.9 531.4,143.2 531.4,163 531.7,159.8 531.7,143.5 531.9,139.8 531.9,158.4 532.2,156.7 532.2,138.5 532.4,142.2 532.4,155.7 532.7,153.8 532.7,144.6 532.9,133.7 532.9,153.3 533.2,156.7 533.2,133.7 533.4,138.9 533.4,155.5 533.7,159.9 533.7,140.8 533.9,133.3 533.9,155.9 534.2,156.6 534.2,138.4 534.4,140.5 534.4,165 534.7,157.3 534.7,143.1 534.9,143 534.9,157.3 535.2,162.6 535.2,145.6 535.4,139.7 535.4,154.9 535.7,159.2 535.7,142.3 535.9,143.7 535.9,157.3 536.2,158.6 536.2,146.1 536.4,140.6 536.4,159.8 536.7,160.4 536.7,136.8 536.9,139.4 536.9,156.2 537.2,161 537.2,128.9 537.4,142.2 537.4,156.6 537.7,155.4 537.7,139 537.9,139 537.9,158.1 538.2,156.8 538.2,148 538.4,142.5 538.4,159.8 538.7,156.6 538.7,144.7 538.9,142.1 538.9,155.7 539.2,164.1 539.2,141.4 539.4,141.2 539.4,159 539.7,156.3 539.7,142.4 539.9,142.5 539.9,156.7 540.2,155.9 540.2,132.2 540.4,144.9 540.4,156.3 540.7,154.4 540.7,141.4 540.9,144.5 540.9,159.5 541.2,153.3 541.2,142.6 541.4,139.6 541.4,162.3 541.7,156.2 541.7,139.6 541.9,136.3 541.9,154.4 542.2,159.1 542.2,138 542.4,142.4 542.4,156.6 542.7,157 542.7,140.9" fill="none" stroke="#0072BD" stroke-width="0.5" stroke-linejoin="round"/>
<path d="M431.3 26.6V156.0" stroke="#0072BD" stroke-width="0.8" stroke-opacity="0.6"/>
<path d="M430.5 9V185.4" stroke="#222" stroke-width="1.2" stroke-dasharray="1 1.3" fill="none"/>
<rect x="318.6" y="9.0" width="224.5" height="176.4" fill="none" stroke="#9c9c9c" stroke-width="1.5"/>
<path d="M318.6 185.4v-1.8M318.6 9.0v1.8" stroke="#555" stroke-width="0.5"/>
<text x="318.6" y="197.9" text-anchor="middle" class="tk">0</text>
<path d="M346.7 185.4v-1.8M346.7 9.0v1.8" stroke="#555" stroke-width="0.5"/>
<text x="346.7" y="197.9" text-anchor="middle" class="tk">0.5</text>
<path d="M374.7 185.4v-1.8M374.7 9.0v1.8" stroke="#555" stroke-width="0.5"/>
<text x="374.7" y="197.9" text-anchor="middle" class="tk">1</text>
<path d="M402.8 185.4v-1.8M402.8 9.0v1.8" stroke="#555" stroke-width="0.5"/>
<text x="402.8" y="197.9" text-anchor="middle" class="tk">1.5</text>
<path d="M430.9 185.4v-1.8M430.9 9.0v1.8" stroke="#555" stroke-width="0.5"/>
<text x="430.9" y="197.9" text-anchor="middle" class="tk">2</text>
<path d="M458.9 185.4v-1.8M458.9 9.0v1.8" stroke="#555" stroke-width="0.5"/>
<text x="458.9" y="197.9" text-anchor="middle" class="tk">2.5</text>
<path d="M487.0 185.4v-1.8M487.0 9.0v1.8" stroke="#555" stroke-width="0.5"/>
<text x="487.0" y="197.9" text-anchor="middle" class="tk">3</text>
<path d="M515.0 185.4v-1.8M515.0 9.0v1.8" stroke="#555" stroke-width="0.5"/>
<text x="515.0" y="197.9" text-anchor="middle" class="tk">3.5</text>
<path d="M543.1 185.4v-1.8M543.1 9.0v1.8" stroke="#555" stroke-width="0.5"/>
<text x="543.1" y="197.9" text-anchor="middle" class="tk">4</text>
<path d="M318.6 185.4h1.8M543.1 185.4h-1.8" stroke="#555" stroke-width="0.5"/>
<text x="316.3" y="188.6" text-anchor="end" class="tk" style="letter-spacing:-0.45px">1</text>
<path d="M318.6 165.8h1.8M543.1 165.8h-1.8" stroke="#555" stroke-width="0.5"/>
<text x="316.3" y="169.4" text-anchor="end" class="tk" style="letter-spacing:-0.45px">2</text>
<path d="M318.6 146.2h1.8M543.1 146.2h-1.8" stroke="#555" stroke-width="0.5"/>
<text x="316.3" y="149.8" text-anchor="end" class="tk" style="letter-spacing:-0.45px">3</text>
<path d="M318.6 126.6h1.8M543.1 126.6h-1.8" stroke="#555" stroke-width="0.5"/>
<text x="316.3" y="130.2" text-anchor="end" class="tk" style="letter-spacing:-0.45px">4</text>
<path d="M318.6 107.0h1.8M543.1 107.0h-1.8" stroke="#555" stroke-width="0.5"/>
<text x="316.3" y="110.6" text-anchor="end" class="tk" style="letter-spacing:-0.45px">5</text>
<path d="M318.6 87.4h1.8M543.1 87.4h-1.8" stroke="#555" stroke-width="0.5"/>
<text x="316.3" y="91.0" text-anchor="end" class="tk" style="letter-spacing:-0.45px">6</text>
<path d="M318.6 67.8h1.8M543.1 67.8h-1.8" stroke="#555" stroke-width="0.5"/>
<text x="316.3" y="71.4" text-anchor="end" class="tk" style="letter-spacing:-0.45px">7</text>
<path d="M318.6 48.2h1.8M543.1 48.2h-1.8" stroke="#555" stroke-width="0.5"/>
<text x="316.3" y="51.8" text-anchor="end" class="tk" style="letter-spacing:-0.45px">8</text>
<path d="M318.6 28.6h1.8M543.1 28.6h-1.8" stroke="#555" stroke-width="0.5"/>
<text x="316.3" y="32.2" text-anchor="end" class="tk" style="letter-spacing:-0.45px">9</text>
<path d="M318.6 9.0h1.8M543.1 9.0h-1.8" stroke="#555" stroke-width="0.5"/>
<text x="316.3" y="13.7" text-anchor="end" class="tk" style="letter-spacing:-0.45px">10</text>
<text x="430.6" y="208.9" text-anchor="middle" class="lb">Time [s]</text>
<text x="430.1" y="217.6" text-anchor="middle" class="cp" style="font-size:9.5px">(b)</text>
<text transform="translate(294.8,88.5) rotate(-90)" text-anchor="middle" class="lb">Kurtosis</text>
<path d="M317.5 44.5H430.3" stroke="#2a86dc" stroke-width="1.0" stroke-dasharray="5.7 3.2" fill="none"/>
<path d="M321.9 40.9L317.5 44.5L321.9 48.1M425.9 40.9L430.3 44.5L425.9 48.1" stroke="#2a86dc" stroke-width="1" fill="none"/>
<path d="M432.5 44.5H542.2" stroke="#ff2d2d" stroke-width="1.0" stroke-dasharray="5.7 3.2" fill="none"/>
<path d="M436.9 40.9L432.5 44.5L436.9 48.1M537.8 40.9L542.2 44.5L537.8 48.1" stroke="#ff2d2d" stroke-width="1" fill="none"/>
<text x="363" y="42" text-anchor="middle" class="an" fill="#1468d2" stroke="#1468d2">Normal state</text>
<text x="500.3" y="42.2" text-anchor="middle" class="an" fill="#ff1414" stroke="#ff1414">Arcing state</text>
<polyline points="177.9,350.1 177.9,354.8 178.2,353.9 178.2,350.5 178.4,350.5 178.4,354 178.7,353.8 178.7,350.1 178.9,350 178.9,353.9 179.2,354 179.2,350.5 179.4,349.9 179.4,354.3 179.7,353.9 179.7,350.2 179.9,349.8 179.9,353.9 180.2,354.3 180.2,350.2 180.4,350.4 180.4,354.4 180.7,353.9 180.7,350.3 180.9,350.2 180.9,353.8 181.2,353.7 181.2,350.2 181.4,350.3 181.4,353.9 181.7,353.9 181.7,350.1 181.9,350.2 181.9,354.3 182.2,354.1 182.2,349.8 182.4,349.9 182.4,353.7 182.7,353.8 182.7,349.9 182.9,350.3 182.9,354.3 183.2,353.9 183.2,349.9 183.4,349.8 183.4,354.2 183.7,353.7 183.7,350.3 183.9,350.4 183.9,353.7 184.2,353.9 184.2,350.2 184.4,349.9 184.4,353.7 184.7,354.2 184.7,350.2 184.9,349.7 184.9,353.8 185.2,354.2 185.2,350.1 185.4,349.8 185.4,354.3 185.7,354.4 185.7,350 185.9,349.6 185.9,353.9 186.2,353.7 186.2,349.8 186.4,350.4 186.4,354.4 186.7,353.8 186.7,349.8 186.9,350.4 186.9,353.7 187.2,353.7 187.2,349.4 187.4,350.4 187.4,354.5 187.7,354.5 187.7,350.4 187.9,350.4 187.9,354.4 188.2,354.1 188.2,350.3 188.4,350.1 188.4,354.1 188.7,354 188.7,350.4 188.9,350.1 188.9,354 189.2,354 189.2,350.3 189.4,350.4 189.4,354 189.7,354.4 189.7,350.3 189.9,350.5 189.9,354.1 190.2,354.1 190.2,350.3 190.4,350.2 190.4,354.2 190.7,354.3 190.7,350 190.9,350.5 190.9,354 191.2,354.9 191.2,350.2 191.4,349 191.4,353.8 191.7,354.3 191.7,350.3 191.9,350.1 191.9,354.3 192.2,354.4 192.2,350.4 192.4,349.8 192.4,354.1 192.7,353.9 192.7,350.1 192.9,350 192.9,354.2 193.2,354 193.2,350.4 193.4,350.1 193.4,354.3 193.7,354.5 193.7,350.4 193.9,350.5 193.9,354.2 194.2,353.9 194.2,350.4 194.4,350.4 194.4,353.9 194.7,354 194.7,350.2 194.9,349.9 194.9,354.4 195.2,353.8 195.2,350.2 195.4,350.2 195.4,353.9 195.7,353.9 195.7,350.1 195.9,349.9 195.9,353.8 196.2,354 196.2,350.3 196.4,350.4 196.4,354 196.7,353.8 196.7,350.5 196.9,350.3 196.9,354 197.2,353.8 197.2,350.2 197.4,350.3 197.4,353.9 197.7,353.7 197.7,350.2 197.9,349.8 197.9,353.8 198.2,354.1 198.2,350.2 198.4,350.4 198.4,354.6 198.7,354.1 198.7,350.4 198.9,350.2 198.9,353.7 199.2,354.1 199.2,350.5 199.4,350.2 199.4,354.6 199.7,353.7 199.7,350.4 199.9,350 199.9,353.8 200.2,354.3 200.2,350.3 200.4,350 200.4,353.9 200.7,353.8 200.7,349.9 200.9,349.9 200.9,354.5 201.2,354.5 201.2,350.4 201.4,350.4 201.4,354.2 201.7,353.8 201.7,350.4 201.9,350 201.9,353.8 202.2,354.6 202.2,350.4 202.4,350.5 202.4,353.8 202.7,353.9 202.7,349.4 202.9,350 202.9,354 203.2,353.8 203.2,350.3 203.4,350.1 203.4,354.1 203.7,353.8 203.7,350.1 203.9,349.9 203.9,354.3 204.2,354.7 204.2,350.4 204.4,350.4 204.4,354.7 204.7,353.8 204.7,350.4 204.9,349.8 204.9,354.4 205.2,353.9 205.2,350.4 205.4,350 205.4,353.7 205.7,354.4 205.7,350.2 205.9,350.1 205.9,353.8 206.2,354.1 206.2,350 206.4,350.2 206.4,354.6 206.7,354.1 206.7,350.4 206.9,350.4 206.9,354.2 207.2,354.3 207.2,350.1 207.4,349.6 207.4,353.9 207.7,353.9 207.7,350.2 207.9,350.1 207.9,353.9 208.2,353.8 208.2,350 208.4,350.4 208.4,354.1 208.7,354.3 208.7,350.3 208.9,350 208.9,354 209.2,354.3 209.2,350.1 209.4,350.4 209.4,354.3 209.7,353.8 209.7,349.8 209.9,350.4 209.9,353.7 210.2,354 210.2,349.9 210.4,349.8 210.4,354 210.7,353.8 210.7,350.2 210.9,350.1 210.9,354.2 211.2,353.9 211.2,350 211.4,350 211.4,354.4 211.7,353.8 211.7,350.5 211.9,349.4 211.9,354.1 212.2,354 212.2,349.8 212.4,350 212.4,354.1 212.7,353.8 212.7,349.4 212.9,350.2 212.9,354 213.2,353.9 213.2,350 213.4,350 213.4,353.9 213.7,353.8 213.7,350.3 213.9,349.9 213.9,354.3 214.2,354 214.2,350.2 214.4,350.4 214.4,354.2 214.7,354.1 214.7,349.9 214.9,350.3 214.9,354.2 215.2,353.8 215.2,350 215.4,350.3 215.4,353.8 215.7,354 215.7,350.2 215.9,350 215.9,354.2 216.2,353.7 216.2,350.2 216.4,349.9 216.4,353.9 216.7,354 216.7,350.5 216.9,349.6 216.9,354.2 217.2,354 217.2,350.1 217.4,349.6 217.4,353.8 217.7,353.8 217.7,350.2 217.9,350.2 217.9,353.9 218.2,353.8 218.2,349.7 218.4,350 218.4,353.9 218.7,354.6 218.7,350.3 218.9,349.6 218.9,354 219.2,353.8 219.2,350.2 219.4,350 219.4,354.3 219.7,353.8 219.7,349.8 219.9,349.5 219.9,354.4 220.2,354 220.2,350.5 220.4,350 220.4,353.8 220.7,353.7 220.7,350.1 220.9,350.5 220.9,354 221.2,354.1 221.2,350.4 221.4,350.1 221.4,353.7 221.7,354 221.7,349.9 221.9,350 221.9,354.2 222.2,354.1 222.2,350.4 222.4,350.5 222.4,353.9 222.7,354.3 222.7,350.5 222.9,350.3 222.9,354.4 223.2,353.9 223.2,349.9 223.4,350.3 223.4,354 223.7,353.8 223.7,350.5 223.9,350.4 223.9,354.2 224.2,354.2 224.2,349.9 224.4,350.3 224.4,354 224.7,354.1 224.7,349.5 224.9,350.3 224.9,354.2 225.2,354.1 225.2,350 225.4,350.2 225.4,354.3 225.7,354 225.7,350.3 225.9,349.9 225.9,353.9 226.2,354.1 226.2,349.7 226.4,349.7 226.4,354.2 226.7,353.9 226.7,350.2 226.9,350.1 226.9,354.3 227.2,354.1 227.2,350.3 227.4,350 227.4,353.9 227.7,354.2 227.7,350.3 227.9,350.2 227.9,353.7 228.2,353.9 228.2,350.3 228.4,350.5 228.4,353.8 228.7,354.2 228.7,350 228.9,350.2 228.9,354.3 229.2,354 229.2,349.7 229.4,349.8 229.4,353.8 229.7,353.7 229.7,350 229.9,350 229.9,354.4 230.2,354 230.2,350.4 230.4,350.4 230.4,354.3 230.7,354.1 230.7,350.4 230.9,350.3 230.9,354.4 231.2,354.3 231.2,350.3 231.4,350.1 231.4,354.1 231.7,354.1 231.7,349.9 231.9,349.5 231.9,354.2 232.2,354 232.2,350.4 232.4,350.4 232.4,353.8 232.7,354.6 232.7,350.4 232.9,350.4 232.9,353.9 233.2,353.9 233.2,350.5 233.4,350.4 233.4,353.8 233.7,353.7 233.7,350.4 233.9,350.2 233.9,353.7 234.2,353.8 234.2,350.4 234.4,350.4 234.4,354.2 234.7,354 234.7,349.9 234.9,350.3 234.9,354 235.2,353.9 235.2,350 235.4,350 235.4,353.7 235.7,354.2 235.7,350.1 235.9,350 235.9,354.1 236.2,353.8 236.2,350.1 236.4,349.7 236.4,353.9 236.7,353.8 236.7,350.4 236.9,350 236.9,353.8 237.2,354.2 237.2,350.5 237.4,350.1 237.4,353.7 237.7,354.6 237.7,350.5 237.9,350.1 237.9,354.3 238.2,354.4 238.2,350.3 238.4,350.4 238.4,354.4 238.7,353.9 238.7,350.1 238.9,349.4 238.9,354.4 239.2,354.7 239.2,350.4 239.4,350.1 239.4,353.8 239.7,353.9 239.7,349.9 239.9,350.2 239.9,353.8 240.2,354 240.2,350.4 240.4,350.4 240.4,354.2 240.7,354.3 240.7,350.2 240.9,350.4 240.9,354.8 241.2,353.9 241.2,350.3 241.4,349.3 241.4,354.4 241.7,354.4 241.7,350.4 241.9,350.3 241.9,353.9 242.2,354.1 242.2,350.4 242.4,350.2 242.4,353.8 242.7,353.8 242.7,350.5 242.9,349.7 242.9,353.7 243.2,354.2 243.2,349.7 243.4,350.2 243.4,354.7 243.7,353.8 243.7,350.4 243.9,349.5 243.9,353.9 244.2,354.2 244.2,350.4 244.4,350.2 244.4,353.7 244.7,354.1 244.7,350.4 244.9,350.2 244.9,354.7 245.2,354.4 245.2,349.7 245.4,350.2 245.4,354.1 245.7,354.2 245.7,350.4 245.9,350.4 245.9,354.2 246.2,354.6 246.2,350.3 246.4,350.2 246.4,354.1 246.7,353.9 246.7,350.2 246.9,350.4 246.9,354.4 247.2,353.8 247.2,350.4 247.4,349.7 247.4,354.1 247.7,354.1 247.7,350.2 247.9,349.8 247.9,353.8 248.2,354.6 248.2,350.3 248.4,350.1 248.4,353.7 248.7,353.9 248.7,350.3 248.9,350.2 248.9,354.1 249.2,353.9 249.2,350.4 249.4,349.4 249.4,353.8 249.7,354.4 249.7,350.3 249.9,350.1 249.9,354.3 250.2,353.7 250.2,349.4 250.4,350.2 250.4,354 250.7,353.9 250.7,350.4 250.9,350.2 250.9,353.7 251.2,353.8 251.2,350.4 251.4,350.3 251.4,354.2 251.7,354.2 251.7,349.5 251.9,350.3 251.9,353.7 252.2,353.7 252.2,350.4 252.4,350.4 252.4,353.9 252.7,354.7 252.7,350.4 252.9,350 252.9,354 253.2,353.8 253.2,350.1 253.4,350 253.4,353.8 253.7,354.1 253.7,350.1 253.9,350.1 253.9,353.7 254.2,353.9 254.2,350.1 254.4,350 254.4,353.8 254.7,354.1 254.7,350.4 254.9,350.1 254.9,353.8 255.2,353.7 255.2,350.4 255.4,350.1 255.4,354.3 255.7,353.7 255.7,350.2 255.9,349.7 255.9,354 256.1,354 256.1,350 256.4,350.5 256.4,353.9 256.6,353.9 256.6,350.2 256.9,350 256.9,354 257.1,354 257.1,350.2 257.4,350.5 257.4,354.1 257.6,353.9 257.6,350 257.9,350 257.9,353.7 258.1,354.1 258.1,350.2 258.4,350.2 258.4,353.8 258.6,353.8 258.6,350.1 258.9,350.2 258.9,354.2 259.1,354 259.1,350.5 259.4,350.2 259.4,354.4 259.6,353.8 259.6,350.1 259.9,350.3 259.9,354 260.1,354.3 260.1,349.9 260.4,350.2 260.4,354.2 260.6,354 260.6,350.5 260.9,349.7 260.9,354.4 261.1,354.9 261.1,350.4 261.4,350.2 261.4,354 261.6,354.1 261.6,350.1 261.9,350.3 261.9,354.1 262.1,354.1 262.1,350.4 262.4,350.4 262.4,353.9 262.6,353.8 262.6,350.4 262.9,349.9 262.9,353.7 263.1,353.9 263.1,350.5 263.4,350.3 263.4,354.1 263.6,353.8 263.6,350.5 263.9,350.3 263.9,353.7 264.1,354.3 264.1,350.2 264.4,350.3 264.4,354.1 264.6,354.1 264.6,350.4 264.9,349.8 264.9,353.8 265.1,354.2 265.1,350.3 265.4,350.3 265.4,354 265.6,353.7 265.6,350.1 265.9,350 265.9,354.3 266.1,353.8 266.1,350.1 266.4,350.5 266.4,354.3 266.6,354 266.6,349.4 266.9,350.1 266.9,354.2 267.1,354.1 267.1,350.3 267.4,350.3 267.4,354.2 267.6,355.2 267.6,350.3 267.9,350.1 267.9,354.4 268.1,354.6 268.1,350.1 268.4,350.4 268.4,353.7 268.6,354 268.6,349.7 268.9,350 268.9,353.9 269.1,353.9 269.1,350.5 269.4,350.4 269.4,353.7 269.6,353.8 269.6,350.1 269.9,350 269.9,354.4 270.1,354 270.1,350.4 270.4,350.5 270.4,354.8 270.6,354.3 270.6,350.1 270.9,350.1 270.9,353.9 271.1,353.9 271.1,350.1 271.4,350.4 271.4,353.9 271.6,353.8 271.6,349.8 271.9,350.1 271.9,353.8 272.1,353.9 272.1,349.9 272.4,349 272.4,354.1 272.6,354.3 272.6,349.9 272.9,349.7 272.9,353.7 273.1,353.8 273.1,350.4 273.4,350.5 273.4,353.8 273.6,354.1 273.6,349.7 273.9,350.1 273.9,354.1 274.1,354.4 274.1,349.5 274.4,350 274.4,354.3 274.6,354 274.6,350.5 274.9,350.2 274.9,354.3 275.1,354.7 275.1,350.5 275.4,349.4 275.4,353.9 275.6,354.5 275.6,350.4 275.9,350.4 275.9,353.9 276.1,354.1 276.1,350.2 276.4,350.4 276.4,354 276.6,354.8 276.6,349.7 276.9,350.4 276.9,354.8 277.1,354.1 277.1,350.4 277.4,349.9 277.4,354.7 277.6,354 277.6,350 277.9,350.5 277.9,354.2 278.1,353.7 278.1,350.5 278.4,350.2 278.4,354.6 278.6,354.2 278.6,349.8 278.9,350.1 278.9,354.4 279.1,354.1 279.1,349.8 279.4,349.9 279.4,353.8 279.6,354.4 279.6,350.5 279.9,350.4 279.9,354 280.1,354 280.1,349.6 280.4,350 280.4,354 280.6,354.1 280.6,350.2 280.9,350.1 280.9,354.5 281.1,354.3 281.1,350 281.4,350.2 281.4,354.2 281.6,354.3 281.6,350.3 281.9,350.4 281.9,354.1 282.1,353.8 282.1,350.4 282.4,349.7 282.4,354.1 282.6,353.9 282.6,350.4 282.9,350.1 282.9,353.8 283.1,354.3 283.1,350.5 283.4,350.1 283.4,353.8 283.6,354.2 283.6,350.1 283.9,350.4 283.9,354 284.1,354.1 284.1,350.5 284.4,349.6 284.4,354.3 284.6,354 284.6,350.4 284.9,350.2 284.9,353.7 285.1,354.8 285.1,349.9 285.4,349.9 285.4,354 285.6,354.1 285.6,349.9 285.9,350.1 285.9,353.9 286.1,353.8 286.1,350.1 286.4,350.5 286.4,354 286.6,354.3 286.6,350 286.9,350.4 286.9,354.4 287.1,353.9 287.1,350.5 287.4,350 287.4,354 287.6,353.7 287.6,350 287.9,350.3 287.9,354.2 288.1,354 288.1,350.5 288.4,350.4 288.4,354.1 288.6,354 288.6,350.2 288.9,350 288.9,353.8 289.1,354.1 289.1,350.5 289.4,350.4 289.4,353.7 289.6,353.8 289.6,349.9 289.9,350.4 289.9,354 290.1,354 290.1,350.4" fill="none" stroke="#0072BD" stroke-width="0.5" stroke-linejoin="round"/>
<polyline points="290.6,356.8 290.7,359.1 290.7,357.6 290.8,360.9 290.8,357.7 290.9,356.1 290.9,357.6 291,359.5 291,359.2 291.1,358.2 291.1,356.8 291.2,358.1 291.2,356.1 291.3,357.5 291.3,356 291.4,358.8 291.4,358.3 291.5,357.3 291.5,358.1 291.6,359.2 291.6,359.7 291.7,358.7 291.7,359 291.8,358.2 291.8,358.9 291.9,355.8 291.9,360.3 292,357.3 292,357.2 292.1,358.3 292.1,358.7 292.2,355 292.2,358.3 292.3,357.9 292.3,359 292.4,361.2 292.4,361.1 292.5,360.1 292.5,357.4 292.6,360.5 292.6,363 292.7,358.1 292.7,358.7 292.8,358.8 292.8,359.8 292.9,361 292.9,360.2 293,359.7 293,358.7 293.1,361 293.1,358.8 293.2,358.2 293.2,358.3 293.3,357.4 293.3,359.9 293.4,358.9 293.4,357.2 293.5,357.6 293.5,354.5 293.6,359.7 293.6,358.6 293.7,357.6 293.7,359.5 293.8,358.7 293.8,359.4 293.9,358.9 293.9,355.8 294,356.8 294,358.7 294.1,359.4 294.1,358.5 294.2,359.8 294.2,358.4 294.3,358.7 294.3,358.5 294.4,358.5 294.4,358.8 294.5,357.4 294.5,356.8 294.6,359.6 294.6,357.6 294.7,357.7 294.7,359.6 294.8,357.8 294.8,356.2 294.9,358.1 294.9,359 295,359.6 295,358.1 295.1,358.2 295.1,356.3 295.2,358.7 295.2,360.7 295.3,358.1 295.3,360 295.4,357.5 295.5,358.7 295.5,356.7 295.6,358.2 295.6,356.4 295.7,357.2 295.7,358.8 295.8,357 295.8,360.4 295.9,357.8 295.9,358.4 296,358.2 296,356.1 296.1,357 296.1,357.5 296.2,359.3 296.2,359.4 296.3,358.5 296.3,357.6 296.4,360.7 296.4,361.3 296.5,359.8 296.5,356.4 296.6,356 296.6,356.3 296.7,357.2 296.7,358 296.8,358.1 296.8,359.3 296.9,359.3 296.9,355.3 297,359.6 297,357 297.1,359.3 297.1,360.2 297.2,357.2 297.2,358.3 297.3,359.5 297.3,359 297.4,358.6 297.4,357.6 297.5,357.2 297.5,359.3 297.6,358.4 297.6,360 297.7,358.5 297.7,358.1 297.8,359.6 297.8,358 297.9,356.9 297.9,359.7 298,362.2 298,360 298.1,358.3 298.1,358.9 298.2,361.6 298.2,359.7 298.3,360.4 298.3,357.2 298.4,357.8 298.4,356.9 298.5,358.3 298.5,358.8 298.6,359.5 298.6,355.6 298.7,359.8 298.7,358 298.8,359.4 298.8,359.5 298.9,359.3 298.9,354.8 299,359.5 299,360.4 299.1,360.2 299.1,358.6 299.2,358.8 299.2,359.1 299.3,359.4 299.3,358.9 299.4,354.2 299.4,358.4 299.5,355.7 299.5,359.6 299.6,357.6 299.6,359.9 299.7,361.7 299.7,360.3 299.8,352.8 299.8,359.3 299.9,356.5 299.9,361.1 300,357.6 300,357.9 300.1,356.3 300.1,360.2 300.2,355.3 300.2,358.8 300.3,358.6 300.4,358.7 300.4,356.7 300.5,354.2 300.5,356.8 300.6,357.1 300.6,359.6 300.7,360.1 300.7,358.4 300.8,359 300.8,362.5 300.9,357.8 300.9,357.9 301,359.6 301,359.9 301.1,361.3 301.1,359.3 301.2,357.7 301.2,359.6 301.3,360.7 301.3,360.6 301.4,356.6 301.4,356.2 301.5,354.3 301.5,350.8 301.6,349.2 301.6,350.7 301.7,352.5 301.7,355.3 301.8,357.3 301.8,358.9 301.9,357.4 301.9,358 302,358.8 302,358.6 302.1,357.9 302.1,357.8 302.2,356.2 302.2,359.1 302.3,359.5 302.3,356.4 302.4,359.4 302.4,358.5 302.5,357.5 302.5,358 302.6,358.3 302.6,356.1 302.7,359.1 302.7,357.6 302.8,360.5 302.8,359.8 302.9,360.9 302.9,357.9 303,360.3 303,359.2 303.1,357.2 303.1,359.2 303.2,359.4 303.2,359.1 303.3,359.1 303.3,358.4 303.4,358.6 303.4,359.2 303.5,360.6 303.5,356.2 303.6,359.5 303.6,359.7 303.7,361.6 303.7,362.2 303.8,361.4 303.8,363.7 303.9,363.2 303.9,362.9 304,362 304,360.7 304.1,359.8 304.1,359 304.2,359.5 304.2,365.1 304.3,360.1 304.3,360.5 304.4,358.7 304.4,359.8 304.5,360.2 304.5,359.4 304.6,358.1 304.6,360.9 304.7,359.2 304.7,360.1 304.8,356 304.8,358.8 304.9,358.8 304.9,360.3 305,359.6 305,359.6 305.1,357.2 305.2,356.1 305.2,358.6 305.3,355.3 305.3,356.2 305.4,363.1 305.4,359.3 305.5,358.6 305.5,355.4 305.6,358.8 305.6,360.7 305.7,359.2 305.7,362.1 305.8,360.2 305.8,359.2 305.9,358.5 305.9,360.1 306,360.9 306,359.9 306.1,358 306.1,358.6 306.2,358.1 306.2,358.1 306.3,360.8 306.3,355.9 306.4,358.7 306.4,360.6 306.5,359.2 306.5,360.9 306.6,359 306.6,362.5 306.7,359.1 306.7,357.8 306.8,360.3 306.8,362.5 306.9,359.2 306.9,358.9 307,360.4 307,358 307.1,359.1 307.1,359.4 307.2,360.1 307.2,359.1 307.3,360.1 307.3,357.8 307.4,358.9 307.4,357.8 307.5,359.5 307.5,359.9 307.6,359.7 307.6,358.4 307.7,353.8 307.7,358.5 307.8,358.6 307.8,362.2 307.9,359.6 307.9,360.3 308,360.2 308,360.6 308.1,358.5 308.1,358.3 308.2,356.2 308.2,354.9 308.3,354.3 308.3,352.6 308.4,354.6 308.4,355.3 308.5,356.2 308.5,357.8 308.6,356.5 308.6,360.4 308.7,358.7 308.7,358.7 308.8,362.8 308.8,358.4 308.9,359.6 308.9,358.2 309,357.8 309,358.2 309.1,357.9 309.1,358.7 309.2,358.2 309.2,356.4 309.3,357.3 309.3,358.4 309.4,358.8 309.4,358.2 309.5,359.7 309.5,357.6 309.6,361 309.6,358.3 309.7,358.1 309.7,357.5 309.8,357.8 309.8,358.3 309.9,357.4 310,358.6 310,359.6 310.1,356.3 310.1,358.4 310.2,358.6 310.2,361.3 310.3,357.6 310.3,355.7 310.4,359.9 310.4,358.8 310.5,358.7 310.5,355.7 310.6,358.8 310.6,358.1 310.7,359.3 310.7,357.5 310.8,358.7 310.8,360 310.9,358.9 310.9,358.8 311,357.9 311,357.9 311.1,358.2 311.1,357.5 311.2,357 311.2,358.7 311.3,358.4 311.3,358.4 311.4,357.8 311.4,357.5 311.5,359.2 311.5,358.2 311.6,356.6 311.6,359 311.7,360.7 311.7,357.8 311.8,358.4 311.8,358.7 311.9,357.3 311.9,359 312,359 312,356.9 312.1,361 312.1,357.2 312.2,359.5 312.2,357.9 312.3,357.9 312.3,355.1 312.4,358.3 312.4,357.5 312.5,359.5 312.5,356.4 312.6,355.6 312.6,359.6 312.7,356.7 312.7,358.9 312.8,358.4 312.8,360.8 312.9,356.7 312.9,359 313,359.4 313,358.1 313.1,361.1 313.1,358.7 313.2,358.8 313.2,359.2 313.3,358.4 313.3,357.9 313.4,360.2 313.4,359.7 313.5,361.7 313.5,357.9 313.6,358.6 313.6,358.9 313.7,356 313.7,357.8 313.8,359.6 313.8,357.8 313.9,358.1 313.9,358.6 314,355 314,356 314.1,358.1 314.1,359.2 314.2,353.6 314.2,359.2 314.3,358.8 314.3,358 314.4,358.3 314.4,358.9 314.5,356 314.5,358.2 314.6,359.1 314.6,358.6 314.7,361.6 314.7,360.2 314.8,360.5 314.9,358.1 314.9,356.2 315,354.3 315,353.1 315.1,351.5 315.1,353 315.2,354.5 315.2,355.8 315.3,357.9 315.3,359.3 315.4,357.5 315.4,356.6 315.5,358.1 315.5,360.1 315.6,357.1 315.6,361.8 315.7,360.1 315.7,357.9 315.8,357.2 315.8,357.9 315.9,356.2 315.9,358.5 316,359.9 316,359 316.1,358.4 316.1,362.9 316.2,359.2 316.2,356.9 316.3,356.8 316.3,357.4 316.4,360.5 316.4,358.9 316.5,362.9 316.5,356.3 316.6,358.2 316.6,355.9 316.7,360.5 316.7,362.7 316.8,357 316.8,359 316.9,360 316.9,358.6 317,359 317,356.1 317.1,358.4 317.1,358.5 317.2,358.6 317.2,360.2 317.3,358.3 317.3,364.8 317.4,358.6 317.4,361.6 317.5,359.4 317.5,357.5 317.6,352.7 317.6,359.7 317.7,359.1 317.7,357.1 317.8,358.9 317.8,360.8 317.9,363.3 317.9,359.5 318,359.9 318,360.6 318.1,358.4 318.1,358.3 318.2,359.5 318.2,358.6 318.3,359.1 318.3,357.7 318.4,358.9 318.4,358.8 318.5,357.8 318.5,358.9 318.6,359.4 318.6,355.8 318.7,357.7 318.7,357.7 318.8,357.7 318.8,356.4 318.9,355.3 318.9,353.5 319,351.9 319,354.2 319.1,355.6 319.1,356.4 319.2,357.3 319.2,361.8 319.3,357.4 319.3,357.6 319.4,359.3 319.4,359.9 319.5,355.5 319.5,358.9 319.6,359.8 319.7,356.6 319.7,360.2 319.8,358 319.8,359.2 319.9,357.3 319.9,357.3 320,358.5 320,360.5 320.1,358.2 320.1,361.9 320.2,359 320.2,357.5 320.3,358.6 320.3,358.8 320.4,359.5 320.4,359.9 320.5,356 320.5,358.4 320.6,359.2 320.6,358.4 320.7,360.7 320.7,361.4 320.8,358.3 320.8,356.3 320.9,359.8 320.9,358.9 321,357.3 321,356.1 321.1,360.6 321.1,357 321.2,357.6 321.2,353.8 321.3,360.2 321.3,361 321.4,360.2 321.4,358.5 321.5,356.3 321.5,356.9 321.6,360.1 321.6,361.3 321.7,360.8 321.7,359.9 321.8,356.9 321.8,357.3 321.9,359 321.9,357 322,359.8 322,355.9 322.1,356 322.1,358.6 322.2,359 322.2,359.4 322.3,358.9 322.3,359.2 322.4,358.4 322.4,360.5 322.5,356.2 322.5,358.3 322.6,358.4 322.6,357.6 322.7,357.3 322.7,359.8 322.8,358.3 322.8,356.8 322.9,358.6 322.9,352.4 323,356.4 323,357.2 323.1,359 323.1,357.8 323.2,358.2 323.2,358.1 323.3,360.7 323.3,357.7 323.4,356.9 323.4,357 323.5,358.1 323.5,358 323.6,359.1 323.6,359.6 323.7,358.7 323.7,356.9 323.8,359 323.8,358.5 323.9,358.2 323.9,356.4 324,362.4 324,359.2 324.1,360.9 324.1,358.2 324.2,361.2 324.2,361 324.3,360.9 324.3,357 324.4,358.8 324.5,358 324.5,359 324.6,359 324.6,359.7 324.7,355.1 324.7,356.9 324.8,358 324.8,358.7 324.9,359.2 324.9,356.8 325,357.9 325,359.6 325.1,358.8 325.1,358.8 325.2,358.1 325.2,359.5 325.3,358.5 325.3,360.8 325.4,361 325.4,360.6 325.5,355.1 325.5,364.6 325.6,360.3 325.6,362.3 325.7,360.4 325.7,359.1 325.8,357.2 325.8,359.5 325.9,358.2 325.9,358.4 326,357.8 326,357.1 326.1,359.9 326.1,361.5 326.2,363.5 326.2,364.5 326.3,366 326.3,364.3 326.4,363.5 326.4,361.7 326.5,359.4 326.5,357.3 326.6,356.5 326.6,354.9 326.7,360.1 326.7,356.7 326.8,358.7 326.8,360.7 326.9,359.9 326.9,359 327,357.8 327,360.1 327.1,359.4 327.1,356.5 327.2,362.1 327.2,364.9 327.3,358.1 327.3,360.4 327.4,356.9 327.4,359 327.5,358.8 327.5,356.6 327.6,357.9 327.6,361.9 327.7,359.1 327.7,363.1 327.8,359.6 327.8,359.4 327.9,359.8 327.9,357.7 328,355.4 328,356.2 328.1,358.7 328.1,356.7 328.2,359.4 328.2,361.5 328.3,360.9 328.3,360.7 328.4,361 328.4,356.1 328.5,359.5 328.5,353.4 328.6,362.7 328.6,359.7 328.7,360.2 328.7,357.8 328.8,357.8 328.8,360.9 328.9,357.7 328.9,359.4 329,356.2 329,356.4 329.1,358.6 329.1,359.3 329.2,357.9 329.3,358.3 329.3,360.2 329.4,362.3 329.4,355.9 329.5,359.3 329.5,357.9 329.6,358.4 329.6,356.8 329.7,359.2 329.7,360.6 329.8,357.2 329.8,356.4 329.9,358.2 329.9,358.4 330,358.3 330,359.7 330.1,359.8 330.1,358.8 330.2,357.1 330.2,358.6 330.3,356.9 330.3,359.6 330.4,354.5 330.4,358.5 330.5,358.6 330.5,352.6 330.6,359.1 330.6,357.7 330.7,358.1 330.7,356.6 330.8,358 330.8,358.8 330.9,360.4 330.9,358.7 331,356.2 331,355.6 331.1,361.8 331.1,359.8 331.2,357.1 331.2,359.4 331.3,359.8 331.3,358.7 331.4,359.5 331.4,357.6 331.5,359.7 331.5,360.1 331.6,360.3 331.6,356.5 331.7,357.7 331.7,356.1 331.8,354.5 331.8,353 331.9,351.9 331.9,352.8 332,354.5 332,355.9 332.1,358.2 332.1,360 332.2,356.6 332.2,359.8 332.3,359.8 332.3,356 332.4,356 332.4,359.7 332.5,355.9 332.5,359.2 332.6,358.7 332.6,356.1 332.7,360.1 332.7,358 332.8,358.7 332.8,358.1 332.9,358 332.9,364.8 333,358.7 333,353.3 333.1,364.8 333.1,359.5 333.2,360 333.2,361.2 333.3,360.1 333.3,359.1 333.4,357.4 333.4,358.1 333.5,356.4 333.5,356.6 333.6,357.9 333.6,355.8 333.7,361.4 333.7,357.4 333.8,358.7 333.8,359 333.9,364.5 333.9,359.2 334,355 334,358.8 334.1,359.1 334.2,358.9 334.2,358.2 334.3,358.3 334.3,358.5 334.4,359.9 334.4,355 334.5,359.9 334.5,356.6 334.6,358.5 334.6,357.7 334.7,359.9 334.7,362 334.8,360.6 334.8,359.3 334.9,359.8 334.9,360.4 335,360.8 335,357.9 335.1,357.2 335.1,361.6 335.2,361.2 335.2,356.8 335.3,360.3 335.3,357.7 335.4,358.6 335.4,359.4 335.5,360.3 335.5,365.1 335.6,360.1 335.6,360.5 335.7,360.6 335.7,358.2 335.8,359.8 335.8,357.3 335.9,358.5 335.9,358.5 336,359.4 336,357.8 336.1,359.2 336.1,358.6 336.2,354.6 336.2,359.5 336.3,359.9 336.3,358.8 336.4,358.9 336.4,356.5 336.5,359.7 336.5,356.2 336.6,359.2 336.6,359.5 336.7,356.7 336.7,361.2 336.8,359.3 336.8,358.4 336.9,358.4 336.9,357.4 337,360.2 337,358.2 337.1,361.1 337.1,358.6 337.2,358.9 337.2,360.5 337.3,361.6 337.3,360.8 337.4,355.4 337.4,358.8 337.5,359.8 337.5,360 337.6,358.6 337.6,357.1 337.7,353.9 337.7,359.6 337.8,359 337.8,356.7 337.9,355.8 337.9,354 338,352.2 338,350.4 338.1,353 338.1,353.9 338.2,356.2 338.2,357.4 338.3,359.3 338.3,360.8 338.4,361.4 338.4,362 338.5,363 338.5,365 338.6,366 338.6,364.7 338.7,362.7 338.7,361.6 338.8,361.7 338.8,360.4 338.9,356.6 339,358.8 339,360.6 339.1,359.5 339.1,360.2 339.2,358.6 339.2,358.6 339.3,362.8 339.3,358.3 339.4,358.8 339.4,359.8 339.5,359.9 339.5,359.9 339.6,358.7 339.6,359.9 339.7,359.1 339.7,360.2 339.8,361.2 339.8,359.5 339.9,358.1 339.9,362.2 340,357.9 340,359 340.1,361.1 340.1,358.8 340.2,360.4 340.2,359.4 340.3,357.4 340.3,359.3 340.4,358.8 340.4,362.7 340.5,357.5 340.5,361.9 340.6,357.6 340.6,360.9 340.7,360.3 340.7,359 340.8,358.6 340.8,358.7 340.9,360.4 340.9,358.4 341,359.2 341,359 341.1,359.9 341.1,359.6 341.2,359.1 341.2,361.1 341.3,359.7 341.3,356 341.4,357.4 341.4,357.7 341.5,359 341.5,358 341.6,361.7 341.6,358.4 341.7,360.5 341.7,358.5 341.8,358.2 341.8,358.9 341.9,359.6 341.9,356.3 342,361 342,356.8 342.1,359.3 342.1,358.5 342.2,357.6 342.2,360.4 342.3,360.4 342.3,360.2 342.4,360.4 342.4,361 342.5,359.5 342.5,360.2 342.6,360.6 342.6,358.3 342.7,359.9 342.7,362.1 342.8,357.9 342.8,357.6 342.9,357.3 342.9,361.4 343,359.5 343,355.5 343.1,358 343.1,362.1 343.2,359 343.2,359 343.3,359.1 343.3,358.3 343.4,357.2 343.4,359 343.5,358.8 343.5,357.5 343.6,359.6 343.6,358.3 343.7,357.5 343.8,358.6 343.8,358.2 343.9,356 343.9,360.7 344,360 344,360.2 344.1,358 344.1,358 344.2,358.2 344.2,358.7 344.3,359.4 344.3,360.6 344.4,360.9 344.4,360.5 344.5,356.1 344.5,358.8 344.6,360.7 344.6,359 344.7,358.9 344.7,361.2 344.8,358 344.8,362.2 344.9,361 344.9,361.1 345,363.9 345,358.4 345.1,359.3 345.1,360.8 345.2,359.5 345.2,357.7 345.3,355.7 345.3,358.5 345.4,357.9 345.4,359.7 345.5,358.6 345.5,359 345.6,365.3 345.6,358.9 345.7,356.4 345.7,359.7 345.8,360.5 345.8,358.9 345.9,361.9 345.9,356.5 346,359.3 346,356.9 346.1,359.7 346.1,361.9 346.2,359.1 346.2,359.7 346.3,359.9 346.3,359.1 346.4,359.4 346.4,361.3 346.5,360.1 346.5,359.4 346.6,359.5 346.6,359.8 346.7,356.1 346.7,358 346.8,361.4 346.8,360.9 346.9,358.6 346.9,360.1 347,358.4 347,358 347.1,356.5 347.1,359.3 347.2,360.3 347.2,358.2 347.3,360.8 347.3,365.3 347.4,357.4 347.4,359.4 347.5,365.3 347.5,357.1 347.6,360.7 347.6,358.6 347.7,358.1 347.7,358.9 347.8,360.9 347.8,361.1 347.9,358.9 347.9,359.6 348,360.2 348,359.3 348.1,361 348.1,358.1 348.2,359.5 348.2,358.8 348.3,359.9 348.3,359.7 348.4,359.3 348.4,361.2 348.5,357.7 348.5,356.7 348.6,355.4 348.7,353.4 348.7,353.4 348.8,354.7 348.8,356 348.9,357.7 348.9,358.2 349,357.7 349,358.1 349.1,359.6 349.1,361.4 349.2,361.8 349.2,360.3 349.3,361.3 349.3,359.8 349.4,362.2 349.4,359.2 349.5,361.2 349.5,361.3 349.6,361.1 349.6,358.1 349.7,359.7 349.7,356.7 349.8,358.7 349.8,361.1 349.9,359.4 349.9,359.2 350,361.2 350,360.5 350.1,359 350.1,359.2 350.2,359 350.2,360.2 350.3,359.6 350.3,357.8 350.4,360.8 350.4,358.7 350.5,360.6 350.5,359.8 350.6,360.5 350.6,360.7 350.7,357.3 350.7,358.7 350.8,358.1 350.8,359.2 350.9,357.8 350.9,360.6 351,359.8 351,358.9 351.1,360.9 351.1,358 351.2,358.4 351.2,362.6 351.3,362 351.3,359.3 351.4,360.2 351.4,358.7 351.5,359.8 351.5,358.3 351.6,360.3 351.6,359.3 351.7,358.4 351.7,360.2 351.8,358.1 351.8,360.5 351.9,359.9 351.9,361.1 352,360.6 352,359.5 352.1,360.6 352.1,357.5 352.2,359.5 352.2,359.7 352.3,360.3 352.3,359.4 352.4,360.3 352.4,359.4 352.5,358.1 352.5,359.2 352.6,359.2 352.6,359.4 352.7,360.2 352.7,359 352.8,360.7 352.8,357.8 352.9,357.8 352.9,361 353,359.4 353,357.9 353.1,361.7 353.1,359.3 353.2,360.9 353.2,360.2 353.3,356 353.3,358.7 353.4,358.7 353.5,360.2 353.5,360.2 353.6,359.3 353.6,359 353.7,359 353.7,357.6 353.8,356.3 353.8,359.8 353.9,359.9 353.9,361.2 354,359.6 354,358.6 354.1,360.9 354.1,359.2 354.2,360.1 354.2,358.2 354.3,361.8 354.3,358.6 354.4,356.1 354.4,355.9 354.5,360.8 354.5,359.6 354.6,359.3 354.6,357.9 354.7,358.2 354.7,360.7 354.8,357.9 354.8,357.8 354.9,358.6 354.9,359.5 355,360.8 355,361.3 355.1,356.1 355.1,360 355.2,357.5 355.2,359.8 355.3,357.6 355.3,360.6 355.4,356.3 355.4,361.2 355.5,359 355.5,353.3 355.6,358.3 355.6,362.1 355.7,356.8 355.7,359.1 355.8,358.3 355.8,358.6 355.9,359.4 355.9,357 356,360.7 356,360.9 356.1,360.4 356.1,359.8 356.2,358.9 356.2,361.8 356.3,359.8 356.3,357 356.4,360 356.4,359.4 356.5,358.9 356.5,361.7 356.6,360 356.6,355.7 356.7,359.8 356.7,359.8 356.8,359.9 356.8,357.6 356.9,364.8 356.9,360 357,362 357,362.8 357.1,362.6 357.1,364.4 357.2,361.5 357.2,362.7 357.3,361.3 357.3,360.6 357.4,362.5 357.4,359.5 357.5,359.9 357.5,360.5 357.6,362 357.6,356.1 357.7,360.4 357.7,360.8 357.8,360 357.8,358 357.9,358.4 357.9,359.7 358,360.8 358,359.6 358.1,358.1 358.1,360.5 358.2,359.5 358.3,360.2 358.3,359.4 358.4,360.6 358.4,360.5 358.5,358.1 358.5,359.6 358.6,359.9 358.6,359.8 358.7,361.5 358.7,359.1 358.8,359.9 358.8,357 358.9,358.6 358.9,362.6 359,357.7 359,359.4 359.1,360 359.1,360 359.2,362.5 359.2,358.3 359.3,358.4 359.3,359.9 359.4,359.4 359.4,358.2 359.5,360.5 359.5,358.9 359.6,355.7 359.6,362.2 359.7,361.1 359.7,360.3 359.8,361.1 359.8,361.2 359.9,359.2 359.9,361.5 360,361.7 360,360.2 360.1,359.8 360.1,361.6 360.2,360.9 360.2,361.5 360.3,361.9 360.3,360 360.4,359.8 360.4,359.8 360.5,361.6 360.5,363.3 360.6,359.7 360.6,359.4 360.7,358.4 360.7,362.2 360.8,362.3 360.8,360.8 360.9,360.6 360.9,361.8 361,361.1 361,359.6 361.1,359.3 361.1,361.1 361.2,358.8 361.2,361.6 361.3,358.6 361.3,361.5 361.4,359.4 361.4,362.7 361.5,357.3 361.5,360.7 361.6,361.7 361.6,360.7 361.7,359.1 361.7,361.4 361.8,359.9 361.8,360 361.9,359.2 361.9,359.8 362,360.1 362,361 362.1,361.4 362.1,362.4 362.2,363.3 362.2,361.7 362.3,363.6 362.3,362.2 362.4,360.9 362.4,360.3 362.5,361.1 362.5,359.3 362.6,356.4 362.6,358.5 362.7,361.3 362.7,360.2 362.8,360 362.8,358.6 362.9,359.8 362.9,361.6 363,363.8 363,359.6 363.1,360.8 363.2,358.8 363.2,360.9 363.3,358.8 363.3,360.1 363.4,359.2 363.4,358.6 363.5,361.6 363.5,360.8 363.6,359.1 363.6,359.8 363.7,361.4 363.7,360.1 363.8,359.8 363.8,357.5 363.9,359.2 363.9,360.4 364,359 364,364.6 364.1,362.5 364.1,359.3 364.2,361.6 364.2,358.7 364.3,357.5 364.3,359.6 364.4,361.2 364.4,359 364.5,358 364.5,358.6 364.6,360.7 364.6,358.9 364.7,359.7 364.7,360.9 364.8,359.9 364.8,360.4 364.9,359.4 364.9,358.7 365,358.5 365,358.2 365.1,364.5 365.1,359.7 365.2,356.3 365.2,366.2 365.3,361 365.3,356 365.4,361.8 365.4,357.1 365.5,359.3 365.5,359.4 365.6,360.8 365.6,359.7 365.7,359.6 365.7,359.6 365.8,360.9 365.8,356.7 365.9,360.8 365.9,359.3 366,361.8 366,361.4 366.1,360.2 366.1,360.2 366.2,359.9 366.2,360.3 366.3,357.6 366.3,362.2 366.4,358.6 366.4,359.7 366.5,359.2 366.5,361.1 366.6,363.6 366.6,361.6 366.7,358.4 366.7,359.4 366.8,366.1 366.8,359.7 366.9,358.8 366.9,361.1 367,358 367,356 367.1,354.3 367.1,352.6 367.2,350.4 367.2,351.5 367.3,354.1 367.3,355.6 367.4,357.9 367.4,359.5 367.5,362.6 367.5,358 367.6,356.6 367.6,359.7 367.7,359.5 367.7,360.1 367.8,360.8 367.8,359.9 367.9,358.6 368,360.2 368,361.2 368.1,361.3 368.1,359 368.2,360.1 368.2,360.2 368.3,358.2 368.3,360.6 368.4,362.9 368.4,361.3 368.5,360.6 368.5,358.8 368.6,359.7 368.6,360.1 368.7,358.3 368.7,355.7 368.8,360.6 368.8,359.7 368.9,358.6 368.9,362.1 369,360.1 369,358.5 369.1,357 369.1,360.5 369.2,358 369.2,359.3 369.3,359.2 369.3,361.8 369.4,362.2 369.4,360.2 369.5,361.3 369.5,360.3 369.6,360.3 369.6,358.8 369.7,360.3 369.7,358.3 369.8,359.2 369.8,357.1 369.9,359.1 369.9,358.8 370,361.1 370,359.3 370.1,358.5 370.1,361.6 370.2,361.9 370.2,357.7 370.3,361.5 370.3,359.3 370.4,360 370.4,356.4 370.5,360.4 370.5,359.8 370.6,358 370.6,359.5 370.7,358.6 370.7,363 370.8,360.8 370.8,360.7 370.9,361 370.9,359.9 371,359.2 371,363.1 371.1,360.9 371.1,363.2 371.2,361.8 371.2,359 371.3,361.8 371.3,358.2 371.4,358.8 371.4,358 371.5,363.9 371.5,358.8 371.6,354.9 371.6,359.5 371.7,358.6 371.7,363.2 371.8,360.1 371.8,362.1 371.9,361.3 371.9,363.1 372,360.9 372,364.3 372.1,361.6 372.1,360.5 372.2,360.3 372.2,357.2 372.3,360.7 372.3,358.4 372.4,361.5 372.4,357.4 372.5,362 372.5,359.3 372.6,360.9 372.6,361.7 372.7,360.3 372.8,359.5 372.8,362.6 372.9,360.3 372.9,360.5 373,358.1 373,361.3 373.1,355.7 373.1,356.5 373.2,360.3 373.2,359.7 373.3,355.2 373.3,360.2 373.4,363.2 373.4,357.6 373.5,360.7 373.5,358.9 373.6,359.8 373.6,359.9 373.7,359.1 373.7,360 373.8,360.6 373.8,359.3 373.9,360.4 373.9,361.5 374,360.6 374,361.2 374.1,360.2 374.1,360.6 374.2,362.5 374.2,361 374.3,359.6 374.3,359.4 374.4,358.8 374.4,362.8 374.5,360.5 374.5,361.1 374.6,359.4 374.6,358 374.7,358.7 374.7,361.3 374.8,360.2 374.8,355.2 374.9,359.6 374.9,360.1 375,359.8 375,360.3 375.1,365.2 375.1,363.8 375.2,358.5 375.2,358 375.3,358.4 375.3,359 375.4,359.9 375.4,361.7 375.5,359.1 375.5,362 375.6,360.5 375.6,359.3 375.7,358.6 375.7,358.9 375.8,359.9 375.8,359.7 375.9,358.4 375.9,358.7 376,359.8 376,357.8 376.1,366 376.1,359.1 376.2,359.6 376.2,360.4 376.3,356.4 376.3,360.1 376.4,359.7 376.4,362.5 376.5,361 376.5,359.8 376.6,360.8 376.6,358.1 376.7,359.5 376.7,357.4 376.8,359.5 376.8,359.5 376.9,360.2 376.9,360 377,361.6 377,359.8 377.1,359.1 377.1,357.7 377.2,360.7 377.2,357.6 377.3,363 377.3,361.3 377.4,361.3 377.4,359 377.5,361.8 377.6,357.9 377.6,359.9 377.7,360.6 377.7,359.1 377.8,360.4 377.8,360.1 377.9,359.9 377.9,361.8 378,361.1 378,360.5 378.1,360.5 378.1,360.4 378.2,359.3 378.2,359.9 378.3,357.5 378.3,360.7 378.4,360.5 378.4,356.5 378.5,358.9 378.5,357.7 378.6,360.3 378.6,357.6 378.7,360.3 378.7,362.8 378.8,358.4 378.8,361.6 378.9,360.1 378.9,359.2 379,361.2 379,361.4 379.1,362.1 379.1,363.3 379.2,358.2 379.2,360.2 379.3,364 379.3,359.8 379.4,357.4 379.4,354.9 379.5,352.9 379.5,351.4 379.6,349.1 379.6,350.4 379.7,353.7 379.7,355.8 379.8,357.6 379.8,361.2 379.9,360.6 379.9,361.1 380,362.9 380,364.4 380.1,366.1 380.1,367.4 380.2,366.5 380.2,365 380.3,363.7 380.3,361.7 380.4,362.9 380.4,361.2 380.5,361.3 380.5,358.7 380.6,359.2 380.6,359.3 380.7,359 380.7,357.6 380.8,361.6 380.8,361.2 380.9,360.2 380.9,356.9 381,360.7 381,362.5 381.1,360.4 381.1,361.3 381.2,358.6 381.2,356.9 381.3,359.2 381.3,360.3 381.4,361 381.4,360.4 381.5,359.3 381.5,361.5 381.6,360.7 381.6,357 381.7,359.7 381.7,357.4 381.8,358.4 381.8,358.6 381.9,358.3 381.9,361.2 382,359.4 382,358.3 382.1,359.3 382.1,359.3 382.2,357.6 382.2,359.1 382.3,357.7 382.3,360.8 382.4,358.9 382.5,360.2 382.5,360.2 382.6,358.2 382.6,361.2 382.7,361.7 382.7,359.1 382.8,361.3 382.8,360.3 382.9,358.6 382.9,360.1 383,360.5 383,359.1 383.1,359.5 383.1,359.6 383.2,360.2 383.2,366 383.3,360.2 383.3,358.1 383.4,359.2 383.4,361.8 383.5,361 383.5,362.1 383.6,361.4 383.6,358.1 383.7,357.5 383.7,363.4 383.8,360.3 383.8,362.3 383.9,359.8 383.9,359.5 384,357.5 384,358.6 384.1,360.2 384.1,358.1 384.2,359.2 384.2,358.9 384.3,357.8 384.3,359.9 384.4,357.9 384.4,358.6 384.5,361.8 384.5,358.6 384.6,359.9 384.6,356.4 384.7,358.9 384.7,361.4 384.8,360.4 384.8,361.8 384.9,358.3 384.9,360.9 385,361.1 385,366.2 385.1,359.8 385.1,359.7 385.2,359.6 385.2,358.7 385.3,360.7 385.3,359.1 385.4,360.3 385.4,363.3 385.5,361.4 385.5,357.8 385.6,360.8 385.6,360.2 385.7,363.1 385.7,363.2 385.8,359.7 385.8,359.5 385.9,358.9 385.9,361.4 386,359.8 386,361.5 386.1,359.8 386.1,360.8 386.2,361.3 386.2,358 386.3,361.3 386.3,360.5 386.4,361.4 386.4,365.2 386.5,361.6 386.5,360.1 386.6,359 386.6,359.1 386.7,359.8 386.7,359.3 386.8,362 386.8,360.9 386.9,359.5 386.9,360.7 387,359.3 387,361 387.1,360.5 387.1,360.3 387.2,360.3 387.3,360.8 387.3,360.5 387.4,362.5 387.4,360.3 387.5,360.5 387.5,359.6 387.6,362.7 387.6,362.3 387.7,358 387.7,355.6 387.8,361.3 387.8,360.6 387.9,361.3 387.9,359.1 388,359.4 388,363.6 388.1,358.9 388.1,360.3 388.2,359.6 388.2,357.2 388.3,359 388.3,360.6 388.4,358.2 388.4,361.5 388.5,358.7 388.5,360 388.6,361.2 388.6,360 388.7,358.8 388.7,361.8 388.8,358.7 388.8,363.4 388.9,358.8 388.9,364.8 389,361.8 389,364 389.1,356.8 389.1,361.6 389.2,362 389.2,361.5 389.3,358.5 389.3,360.6 389.4,362.4 389.4,362.2 389.5,356.9 389.5,358.9 389.6,355.7 389.6,360.5 389.7,355.6 389.7,360.7 389.8,359.9 389.8,363.2 389.9,360 389.9,358.6 390,358.6 390,362.3 390.1,359.3 390.1,358.8 390.2,359.8 390.2,359.2 390.3,362.9 390.3,361.2 390.4,358.4 390.4,361.1 390.5,359.3 390.5,357.7 390.6,357.3 390.6,356.5 390.7,355.3 390.7,354.6 390.8,353.9 390.8,354.3 390.9,356 390.9,356.8 391,357.2 391,360 391.1,359.3 391.1,359.8 391.2,359.3 391.2,362.3 391.3,359.5 391.3,359.5 391.4,359.4 391.4,359.1 391.5,359.9 391.5,357.7 391.6,360.2 391.6,360.2 391.7,361.6 391.7,361.4 391.8,361.1 391.8,361.9 391.9,358.2 391.9,359.4 392,361.8 392.1,361.3 392.1,360.8 392.2,358.4 392.2,359.3 392.3,358.8 392.3,360.9 392.4,360.1 392.4,360.3 392.5,362.7 392.5,362.1 392.6,359.5 392.6,362 392.7,360 392.7,358.9 392.8,363 392.8,362 392.9,363.9 392.9,361.2 393,360.2 393,363 393.1,360.7 393.1,359.8 393.2,357.8 393.2,360.1 393.3,359.8 393.3,358.6 393.4,360 393.4,358.2 393.5,362.2 393.5,360.7 393.6,358.3 393.6,361.6 393.7,359.7 393.7,359.8 393.8,359 393.8,361.9 393.9,362.8 393.9,365.3 394,363.4 394,359.2 394.1,359.8 394.1,360.5 394.2,360.6 394.2,359 394.3,359.8 394.3,360.5 394.4,359.7 394.4,362.4 394.5,359.9 394.5,360.6 394.6,361.4 394.6,362.1 394.7,362.8 394.7,361 394.8,361.5 394.8,361.4 394.9,359.9 394.9,361.9 395,361.3 395,361.9 395.1,359.5 395.1,361.1 395.2,360.6 395.2,358.4 395.3,358.1 395.3,361.6 395.4,360.2 395.4,360.2 395.5,360.6 395.5,360.3 395.6,361.8 395.6,362.3 395.7,362.6 395.7,360 395.8,363 395.8,359.6 395.9,358.7 395.9,361.8 396,358.2 396,359.3 396.1,359.1 396.1,358.5 396.2,362 396.2,359.1 396.3,360.2 396.3,362.4 396.4,359.8 396.4,360.5 396.5,358.9 396.5,363.3 396.6,360.1 396.6,361.7 396.7,359 396.7,359.6 396.8,363.5 396.8,361.7 396.9,361.6 397,359.2 397,358.1 397.1,361.1 397.1,362.6 397.2,358.9 397.2,360.6 397.3,357.2 397.3,360.4 397.4,362.5 397.4,358.7 397.5,361.9 397.5,360.2 397.6,360.2 397.6,356.4 397.7,358.6 397.7,360.9 397.8,360 397.8,359 397.9,358.3 397.9,356 398,354.2 398,354.5 398.1,353 398.1,353.1 398.2,355.1 398.2,357.1 398.3,357.8 398.3,357.4 398.4,357.3 398.4,362 398.5,360.1 398.5,361.8 398.6,359.3 398.6,359.5 398.7,357.6 398.7,358.5 398.8,358.5 398.8,360.4 398.9,358.6 398.9,357.6 399,358.9 399,358.5 399.1,358.2 399.1,358.5 399.2,362.1 399.2,362.6 399.3,361.6 399.3,359.8 399.4,360.5 399.4,361.1 399.5,357.6 399.5,361.5 399.6,362.3 399.6,361.5 399.7,362.4 399.7,358.9 399.8,363.1 399.8,359.8 399.9,361.9 399.9,360.3 400,362 400,356.5 400.1,358.9 400.1,363.1 400.2,357.5 400.2,360.8 400.3,360.5 400.3,361.3 400.4,359.7 400.4,361.6 400.5,355.9 400.5,354.3 400.6,358.8 400.6,360.5 400.7,362.3 400.7,359.9 400.8,359.7 400.8,357.5 400.9,360.1 400.9,359.7 401,360.5 401,358.9 401.1,359.5 401.1,357.9 401.2,360.1 401.2,359.1 401.3,359.8 401.3,358.6 401.4,361.1 401.4,362 401.5,358 401.5,358.1 401.6,363 401.6,360.4 401.7,358.3" fill="none" stroke="#0072BD" stroke-width="0.55" stroke-linejoin="round"/>
<path d="M290.2 351.0V387.8" stroke="#0072BD" stroke-width="1"/>
<path d="M290.2 247.0V351.0" stroke="#0072BD" stroke-width="0.8" stroke-opacity="0.5"/>
<path d="M289.0 237V412.8" stroke="#222" stroke-width="1.8" stroke-dasharray="1 1.3" fill="none"/>
<rect x="177.6" y="236.2" width="224.4" height="176.60000000000002" fill="none" stroke="#9c9c9c" stroke-width="1.5"/>
<path d="M177.6 412.8v-1.8M177.6 236.2v1.8" stroke="#555" stroke-width="0.5"/>
<text x="177.6" y="423.8" text-anchor="middle" class="tk">0</text>
<path d="M205.7 412.8v-1.8M205.7 236.2v1.8" stroke="#555" stroke-width="0.5"/>
<text x="205.7" y="423.8" text-anchor="middle" class="tk">0.5</text>
<path d="M233.7 412.8v-1.8M233.7 236.2v1.8" stroke="#555" stroke-width="0.5"/>
<text x="233.7" y="423.8" text-anchor="middle" class="tk">1</text>
<path d="M261.8 412.8v-1.8M261.8 236.2v1.8" stroke="#555" stroke-width="0.5"/>
<text x="261.8" y="423.8" text-anchor="middle" class="tk">1.5</text>
<path d="M289.8 412.8v-1.8M289.8 236.2v1.8" stroke="#555" stroke-width="0.5"/>
<text x="289.8" y="423.8" text-anchor="middle" class="tk">2</text>
<path d="M317.9 412.8v-1.8M317.9 236.2v1.8" stroke="#555" stroke-width="0.5"/>
<text x="317.9" y="423.8" text-anchor="middle" class="tk">2.5</text>
<path d="M345.9 412.8v-1.8M345.9 236.2v1.8" stroke="#555" stroke-width="0.5"/>
<text x="345.9" y="423.8" text-anchor="middle" class="tk">3</text>
<path d="M373.9 412.8v-1.8M373.9 236.2v1.8" stroke="#555" stroke-width="0.5"/>
<text x="373.9" y="423.8" text-anchor="middle" class="tk">3.5</text>
<path d="M402.0 412.8v-1.8M402.0 236.2v1.8" stroke="#555" stroke-width="0.5"/>
<text x="402.0" y="423.8" text-anchor="middle" class="tk">4</text>
<path d="M177.6 412.8h1.8M402 412.8h-1.8" stroke="#555" stroke-width="0.5"/>
<text x="175.4" y="416.0" text-anchor="end" class="tk" style="letter-spacing:-0.45px">0</text>
<path d="M177.6 387.6h1.8M402 387.6h-1.8" stroke="#555" stroke-width="0.5"/>
<text x="175.4" y="391.2" text-anchor="end" class="tk" style="letter-spacing:-0.45px">100</text>
<path d="M177.6 362.3h1.8M402 362.3h-1.8" stroke="#555" stroke-width="0.5"/>
<text x="175.4" y="365.9" text-anchor="end" class="tk" style="letter-spacing:-0.45px">200</text>
<path d="M177.6 337.1h1.8M402 337.1h-1.8" stroke="#555" stroke-width="0.5"/>
<text x="175.4" y="340.7" text-anchor="end" class="tk" style="letter-spacing:-0.45px">300</text>
<path d="M177.6 311.9h1.8M402 311.9h-1.8" stroke="#555" stroke-width="0.5"/>
<text x="175.4" y="315.5" text-anchor="end" class="tk" style="letter-spacing:-0.45px">400</text>
<path d="M177.6 286.7h1.8M402 286.7h-1.8" stroke="#555" stroke-width="0.5"/>
<text x="175.4" y="290.3" text-anchor="end" class="tk" style="letter-spacing:-0.45px">500</text>
<path d="M177.6 261.4h1.8M402 261.4h-1.8" stroke="#555" stroke-width="0.5"/>
<text x="175.4" y="265.0" text-anchor="end" class="tk" style="letter-spacing:-0.45px">600</text>
<path d="M177.6 236.2h1.8M402 236.2h-1.8" stroke="#555" stroke-width="0.5"/>
<text x="175.4" y="240.9" text-anchor="end" class="tk" style="letter-spacing:-0.45px">700</text>
<text x="288.6" y="435.5" text-anchor="middle" class="lb">Time [s]</text>
<text x="288.3" y="443.3" text-anchor="middle" class="cp" style="font-size:9.6px">(c)</text>
<text transform="translate(152.7,315.3) rotate(-90)" text-anchor="middle" class="lb">Entropy</text>
<path d="M176.5 270.8H287.8" stroke="#2a86dc" stroke-width="1.3" stroke-dasharray="5.7 3.2" fill="none"/>
<path d="M180.5 267.2L176.5 270.8L180.5 274.40000000000003M283.8 267.2L287.8 270.8L283.8 274.40000000000003" stroke="#2a86dc" stroke-width="1" fill="none"/>
<path d="M290.9 270.8H400.1" stroke="#ff2d2d" stroke-width="1.3" stroke-dasharray="5.7 3.2" fill="none"/>
<path d="M294.9 267.2L290.9 270.8L294.9 274.40000000000003M396.1 267.2L400.1 270.8L396.1 274.40000000000003" stroke="#ff2d2d" stroke-width="1" fill="none"/>
<text x="221.4" y="269" text-anchor="middle" class="an" fill="#1468d2" stroke="#1468d2">Normal state</text>
<text x="358.8" y="269" text-anchor="middle" class="an" fill="#ff1414" stroke="#ff1414">Arcing state</text>
</svg>
</body></html>
